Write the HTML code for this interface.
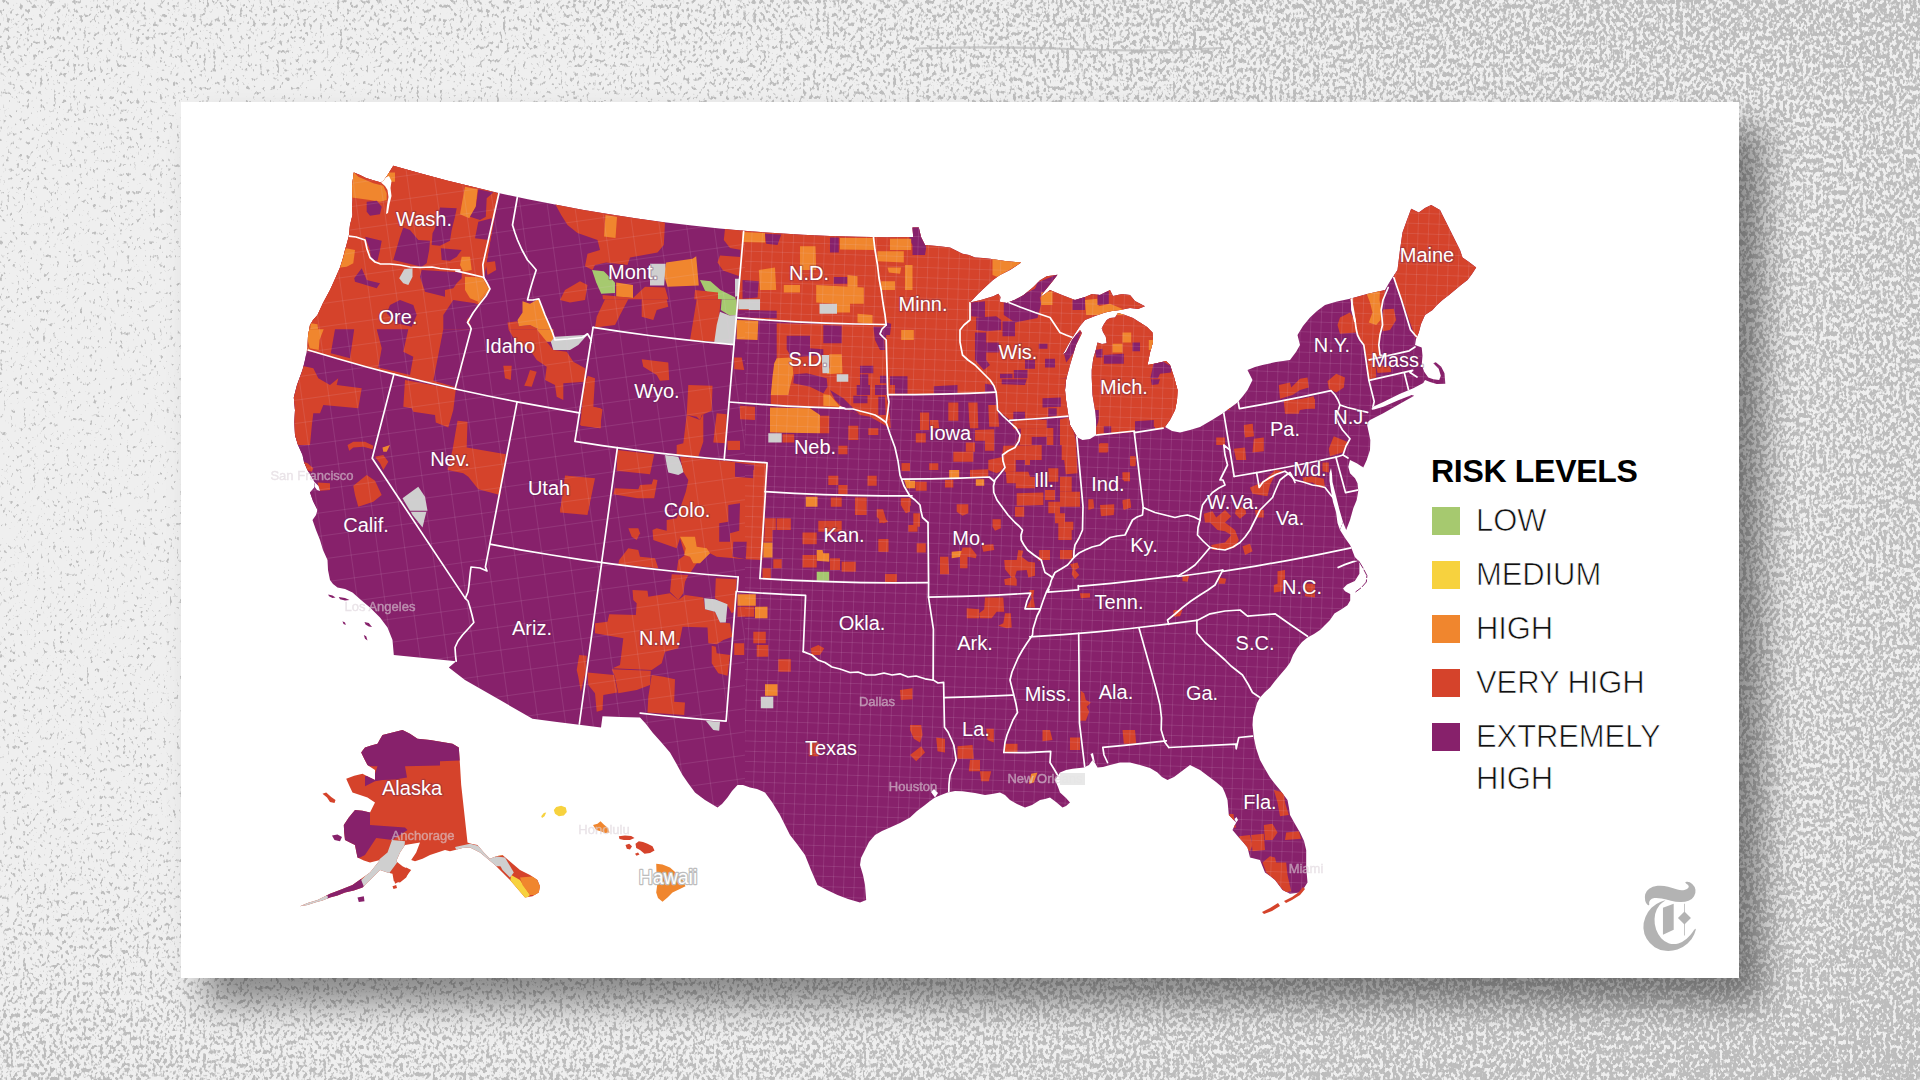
<!DOCTYPE html>
<html><head><meta charset="utf-8"><title>Risk levels map</title>
<style>
html,body{margin:0;padding:0;}
body{width:1920px;height:1080px;overflow:hidden;position:relative;background:#dcdcdc;font-family:"Liberation Sans",sans-serif;}
#bg{position:absolute;left:0;top:0;width:1920px;height:1080px;}
#card{position:absolute;left:181px;top:102px;width:1558px;height:876px;background:#fff;box-shadow:24px 26px 32px rgba(0,0,0,0.42);}
#map{position:absolute;left:0;top:0;width:1920px;height:1080px;}
.lg{position:absolute;left:1432px;width:28px;height:28px;}
.lt{position:absolute;left:1476px;font-size:31px;line-height:42px;color:#111;letter-spacing:-0.1px;white-space:nowrap;-webkit-text-stroke:0.7px #fff;}
#ttl{position:absolute;left:1431px;top:452px;font-size:32px;font-weight:bold;color:#000;white-space:nowrap;letter-spacing:-0.3px;line-height:38px;}
</style></head><body>
<svg id="bg" viewBox="0 0 1920 1080">
<defs>
<radialGradient id="gg" gradientUnits="userSpaceOnUse" cx="230" cy="430" r="1780"><stop offset="0" stop-color="#b9b9b9"/><stop offset="0.22" stop-color="#b0b0b0"/><stop offset="0.45" stop-color="#999999"/><stop offset="0.7" stop-color="#868686"/><stop offset="1" stop-color="#787878"/></radialGradient>
<linearGradient id="gb" x1="0" y1="0" x2="0" y2="1"><stop offset="0" stop-color="#000" stop-opacity="0.06"/><stop offset="0.1" stop-color="#000" stop-opacity="0"/><stop offset="0.8" stop-color="#000" stop-opacity="0"/><stop offset="1" stop-color="#000" stop-opacity="0.14"/></linearGradient>
<filter id="tex" x="0" y="0" width="100%" height="100%" color-interpolation-filters="sRGB">
<feTurbulence type="fractalNoise" baseFrequency="0.3 0.22" numOctaves="2" seed="11" result="n"/>
<feColorMatrix in="n" type="matrix" values="1 0 0 0 0  1 0 0 0 0  1 0 0 0 0  0 0 0 0 1" result="ng"/>
<feComposite in="ng" in2="SourceGraphic" operator="arithmetic" k1="0" k2="1" k3="1" k4="-0.5" result="s"/>
<feColorMatrix in="s" type="matrix" values="7 0 0 0 -3  7 0 0 0 -3  7 0 0 0 -3  0 0 0 0 1" result="c"/>
<feComponentTransfer in="c"><feFuncR type="table" tableValues="0.745 0.94"/><feFuncG type="table" tableValues="0.745 0.94"/><feFuncB type="table" tableValues="0.745 0.94"/></feComponentTransfer>
</filter>
</defs>
<g filter="url(#tex)"><rect width="1920" height="1080" fill="url(#gg)"/><rect width="1920" height="1080" fill="url(#gb)"/></g>
<path d="M915 48.500Q1000 46 1070 49T1222 48" stroke="#b9b9b9" stroke-width="2.2" fill="none" opacity="0.7"/>
</svg>
<div id="card"></div>

<svg id="map" viewBox="0 0 1920 1080">
<defs>
<clipPath id="cm"><path d="M353.8 172.5L360.0 175.0L366.0 178.0L374.0 180.5L381.0 182.5L384.0 180.0L387.0 176.0L390.0 171.0L393.3 165.8L420.0 173.3L446.8 180.4L473.7 187.1L500.7 193.4L527.8 199.2L555.0 204.6L582.2 209.7L609.6 214.3L637.0 218.5L664.4 222.2L691.9 225.6L719.5 228.5L747.1 231.0L774.7 233.1L802.4 234.7L830.1 236.0L857.8 236.8L885.5 237.2L913.2 237.1L912.5 227.5L918.8 227.5L921.0 237.0L925.0 245.0L937.0 246.0L950.0 247.5L957.0 251.0L962.5 253.8L969.0 255.0L975.0 257.5L983.0 258.0L990.0 258.8L1005.0 261.0L1021.2 262.5L1010.0 270.0L1000.0 275.0L993.0 280.0L987.5 285.0L978.0 294.0L970.0 302.5L981.7 299.7L993.3 296.3L998.3 293.7L1000.5 297.0L999.7 301.7L1006.7 303.0L1015.0 299.7L1023.3 295.3L1033.3 287.0L1040.0 280.3L1046.7 276.2L1057.5 274.7L1052.0 282.0L1047.5 287.5L1043.0 293.0L1040.0 297.5L1045.0 294.0L1050.0 290.0L1062.0 295.0L1075.0 300.0L1085.0 297.0L1092.0 294.0L1100.0 295.0L1110.0 290.0L1113.0 296.0L1122.0 294.0L1130.0 295.0L1135.0 301.0L1145.0 306.2L1138.0 309.0L1130.0 308.0L1120.0 310.0L1112.0 311.0L1105.0 312.5L1095.0 316.0L1085.0 320.0L1080.0 326.0L1076.0 332.0L1072.5 337.5L1068.0 345.0L1062.5 355.0L1066.0 352.0L1072.0 340.0L1080.0 330.0L1082.0 333.0L1076.0 345.0L1070.0 365.0L1066.0 380.0L1065.0 390.0L1066.0 400.0L1067.5 410.0L1070.0 425.0L1077.5 437.5L1082.5 440.0L1090.0 439.0L1096.2 435.0L1096.0 420.0L1095.0 410.0L1092.5 395.0L1091.7 377.5L1091.7 370.0L1093.3 358.3L1095.8 350.0L1097.5 342.5L1102.0 344.0L1106.7 343.3L1105.8 336.7L1103.0 332.0L1101.7 328.3L1104.0 324.0L1106.7 320.0L1110.0 318.0L1115.0 317.5L1118.0 313.0L1125.0 315.0L1133.0 318.0L1140.0 322.5L1147.0 327.0L1152.5 332.5L1153.0 342.0L1150.0 352.5L1147.5 365.0L1153.0 364.0L1160.0 362.5L1166.0 361.0L1170.0 365.0L1174.0 377.0L1177.5 390.0L1177.0 400.0L1175.0 410.0L1170.0 420.0L1165.0 427.0L1172.0 431.0L1180.0 432.5L1190.0 430.0L1200.0 427.0L1212.0 420.0L1222.5 413.5L1230.0 408.0L1237.5 402.5L1243.0 396.0L1247.5 390.0L1252.5 380.0L1247.5 370.0L1255.0 367.0L1262.5 365.0L1276.0 362.0L1290.0 360.0L1296.0 352.0L1300.0 345.0L1297.5 335.0L1303.0 326.0L1310.0 317.5L1317.0 311.0L1325.0 305.0L1337.0 301.5L1350.0 298.8L1367.0 294.0L1385.0 290.0L1389.0 283.0L1392.5 277.5L1397.5 270.0L1400.0 250.0L1402.5 232.5L1407.0 220.0L1411.2 208.8L1418.8 212.5L1425.0 208.0L1431.2 205.0L1440.0 210.0L1446.0 222.0L1453.0 236.0L1460.0 250.0L1462.5 257.5L1469.0 262.0L1476.2 267.5L1472.0 274.0L1467.5 280.0L1461.0 285.0L1455.0 290.0L1449.0 295.0L1442.5 300.0L1437.0 305.0L1432.5 310.0L1425.0 315.0L1421.0 324.0L1418.8 332.5L1416.0 339.0L1415.0 345.0L1421.7 347.5L1422.5 355.8L1421.7 365.0L1424.2 371.7L1428.3 377.5L1433.3 379.2L1439.2 380.0L1440.8 375.8L1438.7 368.7L1433.3 363.3L1435.8 362.2L1441.2 366.7L1444.5 373.3L1445.3 383.7L1436.7 384.0L1430.0 382.0L1425.0 380.0L1423.3 383.0L1413.3 388.3L1400.0 393.7L1383.3 402.0L1372.5 407.0L1373.3 409.7L1383.3 406.7L1398.3 400.3L1411.7 395.0L1414.2 395.8L1400.0 403.7L1383.3 413.3L1370.0 420.0L1366.7 423.3L1367.5 426.7L1370.3 440.0L1370.0 450.0L1366.7 460.0L1363.3 467.5L1356.7 463.3L1350.0 460.0L1348.3 466.7L1350.0 473.3L1355.0 478.3L1357.5 483.3L1358.3 490.8L1356.7 500.0L1353.3 508.3L1350.0 520.0L1346.2 530.0L1343.0 522.0L1340.0 530.0L1345.0 538.0L1350.0 545.0L1351.1 547.3L1354.8 557.0L1358.5 560.7L1359.4 564.4L1359.4 573.7L1354.8 581.1L1347.0 584.5L1343.0 588.5L1345.0 591.3L1350.2 594.1L1350.2 600.6L1347.4 605.2L1341.9 608.9L1334.4 613.5L1330.0 620.0L1325.0 625.0L1320.0 630.0L1314.0 634.0L1307.5 637.5L1302.0 642.0L1297.5 647.5L1293.0 655.0L1290.0 662.5L1286.0 668.0L1280.0 675.0L1275.0 681.0L1270.0 687.5L1265.0 692.0L1260.0 697.5L1257.0 703.0L1255.0 710.0L1253.0 717.0L1252.5 725.0L1253.8 737.5L1256.0 748.0L1260.0 760.0L1265.0 769.0L1270.0 777.5L1275.0 784.0L1280.0 790.0L1287.5 800.0L1289.0 808.0L1290.0 815.0L1295.0 824.0L1300.0 832.5L1304.0 841.0L1306.2 850.0L1306.2 867.5L1307.5 882.5L1304.0 888.0L1300.0 892.5L1290.0 893.8L1282.5 890.0L1275.0 880.0L1270.0 876.0L1265.0 872.5L1260.0 860.0L1250.0 857.5L1247.5 847.5L1243.0 842.0L1238.8 837.5L1232.5 830.0L1236.2 822.5L1228.8 815.0L1227.5 800.0L1225.0 793.0L1222.5 787.5L1216.0 782.0L1210.0 777.5L1200.0 770.0L1190.0 765.0L1180.0 772.5L1174.0 777.0L1167.5 780.0L1162.0 777.0L1157.5 772.5L1150.0 768.0L1140.0 765.0L1130.0 762.5L1120.0 762.5L1110.0 765.0L1103.0 767.0L1097.5 767.5L1095.0 763.0L1092.5 760.0L1089.0 765.0L1083.8 767.5L1072.5 768.8L1066.0 770.0L1060.0 772.5L1055.0 780.0L1058.0 787.0L1060.0 792.5L1066.0 798.0L1070.0 802.5L1066.0 806.0L1062.5 807.5L1056.0 802.0L1050.0 797.5L1045.0 799.0L1040.0 800.0L1032.0 805.0L1025.0 807.5L1017.0 804.0L1010.0 800.0L1005.0 795.0L1000.0 792.5L992.0 794.0L985.0 795.0L975.0 793.0L962.5 791.2L955.0 791.0L947.5 792.5L941.0 795.0L935.0 797.5L930.0 801.0L925.0 805.0L917.0 811.0L910.0 817.5L900.0 823.0L890.0 827.5L882.0 831.0L875.0 835.0L869.0 842.0L865.0 850.0L861.0 858.0L860.0 865.0L863.0 875.0L865.0 885.0L866.2 900.0L860.0 902.5L848.0 899.0L837.5 895.0L827.0 890.0L817.5 885.0L811.0 870.0L805.0 855.0L797.0 844.0L790.0 835.0L785.0 825.0L780.0 815.0L772.0 802.0L765.0 792.5L757.0 789.0L750.0 787.5L743.0 785.0L737.5 785.0L732.0 791.0L727.5 797.5L722.0 804.0L717.5 807.5L705.0 800.0L695.0 792.5L688.0 783.0L682.5 775.0L676.0 763.0L670.0 752.5L661.0 742.0L652.5 732.5L646.0 724.0L640.0 717.5L621.0 717.0L602.5 716.2L601.0 727.5L581.2 725.0L557.0 722.0L532.5 718.8L500.0 700.0L465.0 680.0L448.8 667.5L456.2 661.2L393.8 655.0L392.5 640.0L387.5 627.5L380.0 617.5L370.0 607.5L361.0 600.0L352.5 592.5L345.0 589.0L337.5 587.5L333.0 584.0L330.0 580.0L328.0 570.0L327.5 560.0L323.0 550.0L320.0 540.0L316.0 530.0L312.5 520.0L316.0 515.0L317.5 510.0L313.0 501.0L310.0 492.5L314.0 488.0L315.0 482.5L311.0 476.0L307.5 470.0L304.0 462.0L302.5 455.0L298.0 445.0L295.0 435.0L294.5 422.0L295.0 410.0L293.8 397.5L297.0 385.0L302.5 370.0L305.0 360.0L307.5 347.5L308.0 336.0L310.0 325.0L313.0 320.0L317.5 315.0L323.0 303.0L330.0 290.0L335.0 279.0L340.0 267.5L343.0 258.0L345.0 250.0L347.0 243.0L348.8 236.2L350.0 225.0L352.5 215.0L352.0 207.0L352.5 200.0L352.0 186.0Z"/></clipPath>
<clipPath id="ca"><path d="M402.5 730.0L410.0 733.8L417.5 738.8L430.0 740.0L445.0 742.5L452.5 743.8L458.8 747.5L460.0 765.0L461.2 785.0L464.5 815.0L467.5 842.5L471.2 843.8L477.5 845.0L483.8 852.5L490.0 858.8L496.2 856.2L502.5 855.0L511.2 862.5L520.0 870.0L530.0 875.0L537.5 880.0L540.0 886.2L538.8 892.5L532.5 896.2L525.0 897.5L517.5 888.8L510.0 880.0L502.5 872.5L495.0 865.0L487.5 858.8L480.0 852.5L475.0 850.0L470.0 847.5L462.5 848.0L455.0 850.0L450.0 851.2L445.0 850.0L437.5 852.5L430.0 855.0L422.5 858.8L415.0 861.2L411.2 860.0L416.2 852.5L420.0 842.5L412.5 843.8L405.0 845.0L400.0 852.5L396.2 861.2L402.5 866.2L410.0 870.0L406.2 877.5L400.0 882.5L393.8 881.2L392.5 873.8L387.5 872.5L380.0 870.0L375.0 875.0L370.0 880.0L366.2 883.8L362.5 887.5L353.8 890.5L345.0 892.5L337.5 895.5L330.0 897.5L322.5 900.5L315.0 902.5L307.5 905.0L300.0 906.2L307.5 903.0L317.5 900.0L330.0 893.8L341.2 889.5L352.5 885.0L361.2 878.8L370.0 872.5L375.0 866.2L380.0 860.0L375.0 861.2L370.0 862.5L363.8 860.5L357.5 857.5L356.2 851.2L355.0 845.0L350.0 842.5L345.0 840.0L344.2 832.5L343.8 825.0L348.8 817.5L355.0 810.0L362.5 810.8L370.0 812.5L372.5 807.5L375.0 802.5L371.2 800.0L367.5 797.5L360.0 795.0L352.5 792.5L349.2 785.5L346.2 778.8L354.2 775.8L362.5 773.8L368.8 777.0L375.0 780.0L375.0 775.0L375.0 770.0L371.2 767.5L367.5 765.0L364.2 758.8L361.2 752.5L363.0 750.0L365.0 747.5L371.2 745.5L377.5 743.8L380.0 739.2L382.5 735.0L392.5 732.5Z"/></clipPath>
<pattern id="grid" width="10.4" height="10.2" patternUnits="userSpaceOnUse" patternTransform="rotate(2)"><path d="M0 0H10.4M0 0V10.2" stroke="#e9c7e0" stroke-width="0.6" fill="none" opacity="0.42"/></pattern>
<pattern id="gridw" width="27" height="23" patternUnits="userSpaceOnUse" patternTransform="rotate(-8)"><path d="M0 0H27M0 0V23" stroke="#e9c7e0" stroke-width="0.6" fill="none" opacity="0.42"/></pattern>
</defs>
<path d="M353.8 172.5L360.0 175.0L366.0 178.0L374.0 180.5L381.0 182.5L384.0 180.0L387.0 176.0L390.0 171.0L393.3 165.8L420.0 173.3L446.8 180.4L473.7 187.1L500.7 193.4L527.8 199.2L555.0 204.6L582.2 209.7L609.6 214.3L637.0 218.5L664.4 222.2L691.9 225.6L719.5 228.5L747.1 231.0L774.7 233.1L802.4 234.7L830.1 236.0L857.8 236.8L885.5 237.2L913.2 237.1L912.5 227.5L918.8 227.5L921.0 237.0L925.0 245.0L937.0 246.0L950.0 247.5L957.0 251.0L962.5 253.8L969.0 255.0L975.0 257.5L983.0 258.0L990.0 258.8L1005.0 261.0L1021.2 262.5L1010.0 270.0L1000.0 275.0L993.0 280.0L987.5 285.0L978.0 294.0L970.0 302.5L981.7 299.7L993.3 296.3L998.3 293.7L1000.5 297.0L999.7 301.7L1006.7 303.0L1015.0 299.7L1023.3 295.3L1033.3 287.0L1040.0 280.3L1046.7 276.2L1057.5 274.7L1052.0 282.0L1047.5 287.5L1043.0 293.0L1040.0 297.5L1045.0 294.0L1050.0 290.0L1062.0 295.0L1075.0 300.0L1085.0 297.0L1092.0 294.0L1100.0 295.0L1110.0 290.0L1113.0 296.0L1122.0 294.0L1130.0 295.0L1135.0 301.0L1145.0 306.2L1138.0 309.0L1130.0 308.0L1120.0 310.0L1112.0 311.0L1105.0 312.5L1095.0 316.0L1085.0 320.0L1080.0 326.0L1076.0 332.0L1072.5 337.5L1068.0 345.0L1062.5 355.0L1066.0 352.0L1072.0 340.0L1080.0 330.0L1082.0 333.0L1076.0 345.0L1070.0 365.0L1066.0 380.0L1065.0 390.0L1066.0 400.0L1067.5 410.0L1070.0 425.0L1077.5 437.5L1082.5 440.0L1090.0 439.0L1096.2 435.0L1096.0 420.0L1095.0 410.0L1092.5 395.0L1091.7 377.5L1091.7 370.0L1093.3 358.3L1095.8 350.0L1097.5 342.5L1102.0 344.0L1106.7 343.3L1105.8 336.7L1103.0 332.0L1101.7 328.3L1104.0 324.0L1106.7 320.0L1110.0 318.0L1115.0 317.5L1118.0 313.0L1125.0 315.0L1133.0 318.0L1140.0 322.5L1147.0 327.0L1152.5 332.5L1153.0 342.0L1150.0 352.5L1147.5 365.0L1153.0 364.0L1160.0 362.5L1166.0 361.0L1170.0 365.0L1174.0 377.0L1177.5 390.0L1177.0 400.0L1175.0 410.0L1170.0 420.0L1165.0 427.0L1172.0 431.0L1180.0 432.5L1190.0 430.0L1200.0 427.0L1212.0 420.0L1222.5 413.5L1230.0 408.0L1237.5 402.5L1243.0 396.0L1247.5 390.0L1252.5 380.0L1247.5 370.0L1255.0 367.0L1262.5 365.0L1276.0 362.0L1290.0 360.0L1296.0 352.0L1300.0 345.0L1297.5 335.0L1303.0 326.0L1310.0 317.5L1317.0 311.0L1325.0 305.0L1337.0 301.5L1350.0 298.8L1367.0 294.0L1385.0 290.0L1389.0 283.0L1392.5 277.5L1397.5 270.0L1400.0 250.0L1402.5 232.5L1407.0 220.0L1411.2 208.8L1418.8 212.5L1425.0 208.0L1431.2 205.0L1440.0 210.0L1446.0 222.0L1453.0 236.0L1460.0 250.0L1462.5 257.5L1469.0 262.0L1476.2 267.5L1472.0 274.0L1467.5 280.0L1461.0 285.0L1455.0 290.0L1449.0 295.0L1442.5 300.0L1437.0 305.0L1432.5 310.0L1425.0 315.0L1421.0 324.0L1418.8 332.5L1416.0 339.0L1415.0 345.0L1421.7 347.5L1422.5 355.8L1421.7 365.0L1424.2 371.7L1428.3 377.5L1433.3 379.2L1439.2 380.0L1440.8 375.8L1438.7 368.7L1433.3 363.3L1435.8 362.2L1441.2 366.7L1444.5 373.3L1445.3 383.7L1436.7 384.0L1430.0 382.0L1425.0 380.0L1423.3 383.0L1413.3 388.3L1400.0 393.7L1383.3 402.0L1372.5 407.0L1373.3 409.7L1383.3 406.7L1398.3 400.3L1411.7 395.0L1414.2 395.8L1400.0 403.7L1383.3 413.3L1370.0 420.0L1366.7 423.3L1367.5 426.7L1370.3 440.0L1370.0 450.0L1366.7 460.0L1363.3 467.5L1356.7 463.3L1350.0 460.0L1348.3 466.7L1350.0 473.3L1355.0 478.3L1357.5 483.3L1358.3 490.8L1356.7 500.0L1353.3 508.3L1350.0 520.0L1346.2 530.0L1343.0 522.0L1340.0 530.0L1345.0 538.0L1350.0 545.0L1351.1 547.3L1354.8 557.0L1358.5 560.7L1359.4 564.4L1359.4 573.7L1354.8 581.1L1347.0 584.5L1343.0 588.5L1345.0 591.3L1350.2 594.1L1350.2 600.6L1347.4 605.2L1341.9 608.9L1334.4 613.5L1330.0 620.0L1325.0 625.0L1320.0 630.0L1314.0 634.0L1307.5 637.5L1302.0 642.0L1297.5 647.5L1293.0 655.0L1290.0 662.5L1286.0 668.0L1280.0 675.0L1275.0 681.0L1270.0 687.5L1265.0 692.0L1260.0 697.5L1257.0 703.0L1255.0 710.0L1253.0 717.0L1252.5 725.0L1253.8 737.5L1256.0 748.0L1260.0 760.0L1265.0 769.0L1270.0 777.5L1275.0 784.0L1280.0 790.0L1287.5 800.0L1289.0 808.0L1290.0 815.0L1295.0 824.0L1300.0 832.5L1304.0 841.0L1306.2 850.0L1306.2 867.5L1307.5 882.5L1304.0 888.0L1300.0 892.5L1290.0 893.8L1282.5 890.0L1275.0 880.0L1270.0 876.0L1265.0 872.5L1260.0 860.0L1250.0 857.5L1247.5 847.5L1243.0 842.0L1238.8 837.5L1232.5 830.0L1236.2 822.5L1228.8 815.0L1227.5 800.0L1225.0 793.0L1222.5 787.5L1216.0 782.0L1210.0 777.5L1200.0 770.0L1190.0 765.0L1180.0 772.5L1174.0 777.0L1167.5 780.0L1162.0 777.0L1157.5 772.5L1150.0 768.0L1140.0 765.0L1130.0 762.5L1120.0 762.5L1110.0 765.0L1103.0 767.0L1097.5 767.5L1095.0 763.0L1092.5 760.0L1089.0 765.0L1083.8 767.5L1072.5 768.8L1066.0 770.0L1060.0 772.5L1055.0 780.0L1058.0 787.0L1060.0 792.5L1066.0 798.0L1070.0 802.5L1066.0 806.0L1062.5 807.5L1056.0 802.0L1050.0 797.5L1045.0 799.0L1040.0 800.0L1032.0 805.0L1025.0 807.5L1017.0 804.0L1010.0 800.0L1005.0 795.0L1000.0 792.5L992.0 794.0L985.0 795.0L975.0 793.0L962.5 791.2L955.0 791.0L947.5 792.5L941.0 795.0L935.0 797.5L930.0 801.0L925.0 805.0L917.0 811.0L910.0 817.5L900.0 823.0L890.0 827.5L882.0 831.0L875.0 835.0L869.0 842.0L865.0 850.0L861.0 858.0L860.0 865.0L863.0 875.0L865.0 885.0L866.2 900.0L860.0 902.5L848.0 899.0L837.5 895.0L827.0 890.0L817.5 885.0L811.0 870.0L805.0 855.0L797.0 844.0L790.0 835.0L785.0 825.0L780.0 815.0L772.0 802.0L765.0 792.5L757.0 789.0L750.0 787.5L743.0 785.0L737.5 785.0L732.0 791.0L727.5 797.5L722.0 804.0L717.5 807.5L705.0 800.0L695.0 792.5L688.0 783.0L682.5 775.0L676.0 763.0L670.0 752.5L661.0 742.0L652.5 732.5L646.0 724.0L640.0 717.5L621.0 717.0L602.5 716.2L601.0 727.5L581.2 725.0L557.0 722.0L532.5 718.8L500.0 700.0L465.0 680.0L448.8 667.5L456.2 661.2L393.8 655.0L392.5 640.0L387.5 627.5L380.0 617.5L370.0 607.5L361.0 600.0L352.5 592.5L345.0 589.0L337.5 587.5L333.0 584.0L330.0 580.0L328.0 570.0L327.5 560.0L323.0 550.0L320.0 540.0L316.0 530.0L312.5 520.0L316.0 515.0L317.5 510.0L313.0 501.0L310.0 492.5L314.0 488.0L315.0 482.5L311.0 476.0L307.5 470.0L304.0 462.0L302.5 455.0L298.0 445.0L295.0 435.0L294.5 422.0L295.0 410.0L293.8 397.5L297.0 385.0L302.5 370.0L305.0 360.0L307.5 347.5L308.0 336.0L310.0 325.0L313.0 320.0L317.5 315.0L323.0 303.0L330.0 290.0L335.0 279.0L340.0 267.5L343.0 258.0L345.0 250.0L347.0 243.0L348.8 236.2L350.0 225.0L352.5 215.0L352.0 207.0L352.5 200.0L352.0 186.0Z" fill="#87216b"/>
<g clip-path="url(#cm)">
<path d="M295.0 155.0L395.0 162.5L498.8 193.2L495.0 215.0L483.8 277.5L490.0 288.8L478.8 305.0L467.5 322.5L471.2 328.8L456.2 388.8L308.8 351.2L285.0 350.0Z" fill="#d5432b"/>
<path d="M351.2 170.0L360.0 177.5L380.0 182.5L387.5 188.8L388.8 198.8L381.2 202.0L370.0 200.0L351.2 198.8Z" fill="#f0862e"/>
<path d="M382.5 172.5L396.2 172.0L396.2 181.2L383.0 181.2Z" fill="#f0862e"/>
<path d="M367.0 202.5L378.0 201.2L381.2 207.0L378.8 214.5L368.0 214.5L366.2 208.8Z" fill="#87216b"/>
<path d="M402.5 228.0L408.8 230.0L418.0 239.5L430.0 240.5L430.5 250.0L427.5 262.0L420.0 262.5L397.5 257.5L393.0 254.5L396.2 245.0L401.2 238.8Z" fill="#87216b"/>
<path d="M432.0 228.0L442.5 226.2L445.0 215.0L448.8 210.0L457.0 208.8L456.2 226.2L452.5 238.0L442.5 243.0L432.5 243.0Z" fill="#87216b"/>
<path d="M465.5 187.0L477.5 189.0L476.5 212.5L469.0 218.0L459.5 213.0L462.5 200.0Z" fill="#f0862e"/>
<path d="M478.0 189.2L487.5 191.2L486.0 202.5L484.5 218.0L478.0 220.5L470.8 215.0L473.0 202.5Z" fill="#87216b"/>
<path d="M480.5 220.0L492.0 219.5L490.0 238.0L478.0 238.0L475.5 230.5Z" fill="#87216b"/>
<path d="M442.5 250.0L455.5 247.5L463.0 255.5L450.5 260.5L442.5 260.5Z" fill="#87216b"/>
<path d="M367.0 238.0L381.2 240.5L381.8 250.0L370.5 258.0L366.2 250.0Z" fill="#87216b"/>
<path d="M461.2 257.5L470.0 256.2L473.0 270.0L464.0 273.0Z" fill="#f0862e"/>
<path d="M345.0 248.8L355.5 248.8L356.8 260.0L350.5 265.5L341.2 267.5Z" fill="#f0862e"/>
<path d="M357.5 270.0L365.5 267.5L370.5 280.0L378.0 288.0L365.0 285.5L356.2 280.5Z" fill="#87216b"/>
<path d="M400.0 268.8L411.2 267.5L412.5 275.0L408.8 285.0L402.5 282.5L398.8 276.2Z" fill="#cfcfcf"/>
<path d="M420.0 272.5L435.0 270.0L460.5 272.5L463.0 280.0L455.5 290.0L445.0 290.5L442.5 295.5L425.0 290.5L420.0 283.0Z" fill="#87216b"/>
<path d="M465.0 278.8L483.0 277.5L490.0 288.8L478.8 303.0L470.0 300.5L465.0 290.5Z" fill="#f0862e"/>
<path d="M390.0 302.5L400.5 300.0L410.5 305.0L413.0 315.0L405.5 325.5L393.0 320.5L387.5 310.5Z" fill="#87216b"/>
<path d="M445.0 305.5L455.5 300.0L470.5 302.5L478.8 305.0L467.5 322.5L471.2 328.8L456.2 388.8L435.0 383.0L442.5 340.5L450.5 320.5L442.5 315.5Z" fill="#87216b"/>
<path d="M377.5 325.5L403.0 327.5L410.5 340.5L403.0 353.0L415.5 360.5L410.0 375.5L380.0 368.0L383.0 348.0L375.0 340.5Z" fill="#87216b"/>
<path d="M335.5 337.5L355.5 335.0L350.5 358.0L332.5 353.0Z" fill="#87216b"/>
<path d="M307.5 323.8L318.0 322.5L324.2 332.5L319.2 340.0L320.5 350.5L307.5 349.2Z" fill="#f0862e"/>
<path d="M485.5 262.5L495.0 261.2L496.2 270.0L487.5 275.0Z" fill="#d5432b"/>
<path d="M507.5 322.5L517.5 321.2L518.8 326.2L530.0 325.0L540.0 330.0L550.0 342.5L552.5 350.0L565.0 352.5L570.0 362.5L585.0 372.5L585.0 380.0L565.0 380.0L560.0 390.0L545.0 380.0L542.5 366.2L532.5 360.0L530.0 350.0L517.5 340.0L510.0 337.5Z" fill="#d5432b"/>
<path d="M522.5 301.2L530.0 303.8L538.8 298.8L545.0 315.0L552.5 332.5L555.0 340.0L550.0 342.5L540.0 330.0L530.0 325.0L518.8 326.2L517.5 320.0L522.5 312.5Z" fill="#f0862e"/>
<path d="M555.0 338.8L582.5 337.5L577.5 345.0L570.0 351.2L551.2 350.0Z" fill="#cfcfcf"/>
<path d="M502.5 365.0L511.2 366.2L510.0 377.5L503.8 375.0Z" fill="#d5432b"/>
<path d="M530.0 370.0L537.5 371.2L532.5 386.2L527.5 383.8Z" fill="#d5432b"/>
<path d="M555.0 382.5L563.8 381.2L565.0 400.0L557.5 397.5Z" fill="#d5432b"/>
<path d="M555.0 203.8L606.2 212.5L665.0 222.5L663.8 245.0L657.5 252.5L630.0 257.5L627.5 265.0L606.2 262.5L595.0 265.0L592.5 270.0L585.0 266.2L587.5 253.8L600.0 250.0L597.5 240.0L577.5 233.0L567.5 225.0L561.2 215.0Z" fill="#d5432b"/>
<path d="M605.5 215.0L617.0 217.0L615.5 238.0L604.0 236.5Z" fill="#f0862e"/>
<path d="M725.0 228.8L743.0 230.5L741.5 250.0L730.0 248.0L723.8 240.0Z" fill="#d5432b"/>
<path d="M720.0 255.5L740.5 257.0L739.5 276.2L723.0 270.5L717.5 262.5Z" fill="#d5432b"/>
<path d="M592.0 270.0L603.8 271.2L615.0 282.5L615.0 293.0L601.2 293.8L596.2 282.5Z" fill="#a6c96f"/>
<path d="M700.0 280.0L710.5 281.2L720.5 290.0L735.5 297.5L735.5 315.5L722.5 315.5L720.0 300.5L705.0 290.5Z" fill="#a6c96f"/>
<path d="M666.2 262.5L692.5 258.8L696.2 256.2L698.8 285.5L667.5 286.8L663.8 275.0Z" fill="#f0862e"/>
<path d="M616.2 282.5L633.0 285.0L633.0 298.0L616.2 296.8Z" fill="#f0862e"/>
<path d="M650.0 263.8L665.5 263.8L664.2 285.5L650.0 285.5Z" fill="#cfcfcf"/>
<path d="M720.0 312.5L735.5 312.5L734.2 343.0L714.5 341.8L717.5 325.5Z" fill="#cfcfcf"/>
<path d="M735.0 278.8L739.5 278.8L739.5 295.5L735.0 296.8Z" fill="#cfcfcf"/>
<path d="M565.0 290.0L580.0 281.2L587.5 285.0L585.0 300.0L570.0 302.5L560.0 300.0Z" fill="#d5432b"/>
<path d="M602.5 295.0L616.2 296.2L633.0 298.0L645.0 286.8L665.0 287.5L670.0 305.0L655.0 312.5L650.0 320.5L637.5 315.5L630.0 303.0L620.0 315.5L615.0 325.5L605.0 320.5Z" fill="#d5432b"/>
<path d="M695.0 290.0L718.0 292.5L718.0 325.5L715.0 340.5L692.5 339.2L692.5 320.5Z" fill="#d5432b"/>
<path d="M642.5 360.0L667.5 361.2L668.0 380.0L655.0 375.0Z" fill="#d5432b"/>
<path d="M686.2 386.2L710.0 386.2L710.0 410.0L686.2 410.0Z" fill="#d5432b"/>
<path d="M583.8 377.5L592.5 378.8L592.5 410.0L582.5 410.0Z" fill="#d5432b"/>
<path d="M741.2 222.5L1230.0 222.5L1230.0 410.0L1000.0 410.0L996.2 393.0L887.0 395.5L887.0 411.2L735.0 411.2Z" fill="#d5432b"/>
<path d="M742.5 232.0L765.0 233.0L765.0 242.5L742.5 242.0Z" fill="#f0862e"/>
<path d="M765.0 233.8L781.2 234.5L777.5 245.0L766.2 243.8Z" fill="#87216b"/>
<path d="M830.0 237.5L838.8 237.5L838.8 252.5L830.0 252.5Z" fill="#87216b"/>
<path d="M840.0 238.0L873.8 238.0L874.2 250.0L840.0 249.5Z" fill="#f0862e"/>
<path d="M800.0 246.2L815.5 246.2L816.2 270.0L800.0 270.0Z" fill="#f0862e"/>
<path d="M758.8 270.0L775.0 267.5L776.2 290.0L760.0 290.0Z" fill="#f0862e"/>
<path d="M742.5 280.0L758.8 281.2L757.5 297.5L742.5 298.8Z" fill="#87216b"/>
<path d="M783.8 285.0L800.0 285.0L800.0 292.5L783.8 292.5Z" fill="#f0862e"/>
<path d="M833.8 277.0L847.5 277.0L847.5 283.8L833.8 283.8Z" fill="#87216b"/>
<path d="M847.5 275.0L857.5 276.2L857.5 287.5L847.5 287.5Z" fill="#f0862e"/>
<path d="M816.2 285.0L863.8 287.5L863.8 303.8L850.0 303.8L850.0 312.5L836.2 312.5L836.2 303.8L816.2 302.5Z" fill="#f0862e"/>
<path d="M748.8 300.0L760.0 300.0L760.0 310.0L748.8 310.0Z" fill="#cfcfcf"/>
<path d="M819.5 303.8L837.0 303.8L837.0 313.8L819.5 313.8Z" fill="#cfcfcf"/>
<path d="M857.5 313.8L872.5 315.0L872.5 323.8L857.5 322.5Z" fill="#f0862e"/>
<path d="M757.0 322.0L776.2 323.0L775.0 360.0L765.0 380.0L770.0 411.2L735.0 411.2L735.0 360.0L750.0 360.0L757.0 340.0Z" fill="#87216b"/>
<path d="M736.2 321.2L757.0 322.5L757.0 340.0L736.2 340.0Z" fill="#f0862e"/>
<path d="M787.5 337.5L807.5 336.2L810.0 347.5L825.0 347.5L825.0 357.5L812.5 360.0L802.5 352.5L787.5 347.5Z" fill="#87216b"/>
<path d="M822.5 326.2L841.2 326.2L841.2 343.8L822.5 343.8Z" fill="#87216b"/>
<path d="M872.5 327.5L886.2 326.2L886.2 337.5L880.0 347.5L886.2 352.5L872.5 352.5Z" fill="#87216b"/>
<path d="M775.0 362.5L791.2 357.5L792.5 392.5L788.8 400.0L771.2 398.8L773.8 377.5Z" fill="#f0862e"/>
<path d="M827.5 355.0L841.2 355.0L841.2 373.8L827.5 373.8Z" fill="#f0862e"/>
<path d="M822.5 360.0L829.5 360.0L829.5 373.8L822.5 373.8Z" fill="#cfcfcf"/>
<path d="M836.2 375.0L848.8 375.0L848.8 382.0L836.2 382.0Z" fill="#cfcfcf"/>
<path d="M793.8 375.0L822.5 373.8L827.5 387.5L825.0 395.0L815.0 390.0L795.0 385.0Z" fill="#87216b"/>
<path d="M858.8 366.2L872.5 366.2L872.5 375.0L865.0 385.0L858.8 385.0Z" fill="#87216b"/>
<path d="M878.8 376.2L887.0 376.2L887.0 395.5L875.0 395.0L875.0 386.2L878.8 386.2Z" fill="#87216b"/>
<path d="M855.0 386.2L867.5 386.2L867.5 402.5L855.0 402.5Z" fill="#87216b"/>
<path d="M822.5 395.0L835.0 395.0L842.5 405.0L825.0 407.5Z" fill="#f0862e"/>
<path d="M910.0 225.0L920.0 225.0L926.2 247.5L925.0 255.0L912.5 255.0L912.5 245.0L909.5 240.0Z" fill="#87216b"/>
<path d="M890.0 238.8L911.2 238.8L911.2 250.0L890.0 250.0Z" fill="#f0862e"/>
<path d="M877.5 251.2L903.8 251.2L903.8 262.5L877.5 261.2Z" fill="#f0862e"/>
<path d="M887.5 267.5L901.2 267.5L900.0 273.8L888.8 272.5Z" fill="#f0862e"/>
<path d="M905.0 265.0L912.5 265.0L912.5 290.0L905.0 290.0Z" fill="#f0862e"/>
<path d="M881.2 281.2L895.0 281.2L895.0 290.0L881.2 290.0Z" fill="#f0862e"/>
<path d="M992.5 258.0L1022.5 262.0L997.5 277.0L992.5 275.0Z" fill="#f0862e"/>
<path d="M901.2 330.0L913.8 330.0L913.8 340.0L901.2 340.0Z" fill="#f0862e"/>
<path d="M886.2 322.5L891.2 323.8L890.0 335.0L882.5 335.0Z" fill="#87216b"/>
<path d="M890.0 376.2L907.5 376.2L907.5 393.8L895.0 393.8L895.0 385.0L890.0 385.0Z" fill="#87216b"/>
<path d="M933.8 386.2L957.5 385.0L957.5 393.8L933.8 393.8Z" fill="#87216b"/>
<path d="M985.0 383.8L993.8 385.0L996.2 393.0L985.0 393.0Z" fill="#87216b"/>
<path d="M971.2 302.5L985.0 301.2L985.0 317.5L971.2 316.2Z" fill="#87216b"/>
<path d="M976.2 317.5L996.2 316.2L1001.2 320.0L1001.2 330.0L986.2 331.2L976.2 330.0Z" fill="#87216b"/>
<path d="M1003.8 302.5L1018.8 296.2L1037.5 287.5L1041.2 303.8L1037.5 318.0L1015.0 322.5L1003.8 315.0Z" fill="#87216b"/>
<path d="M1002.5 321.2L1015.0 321.2L1015.0 336.2L1002.5 336.2Z" fill="#87216b"/>
<path d="M975.0 332.5L986.2 332.5L986.2 360.0L990.0 365.0L983.8 370.0L975.0 360.0Z" fill="#87216b"/>
<path d="M986.2 342.5L998.8 342.5L998.8 352.5L986.2 352.5Z" fill="#87216b"/>
<path d="M1000.0 373.8L1012.5 373.8L1012.5 385.0L1000.0 385.0Z" fill="#87216b"/>
<path d="M1013.8 370.0L1027.5 370.0L1027.5 386.2L1013.8 386.2Z" fill="#87216b"/>
<path d="M1025.0 360.0L1035.0 360.0L1035.0 368.8L1025.0 368.8Z" fill="#87216b"/>
<path d="M1045.0 358.8L1055.0 358.8L1055.0 367.5L1045.0 367.5Z" fill="#87216b"/>
<path d="M1038.8 343.8L1047.5 343.8L1047.5 348.8L1038.8 348.8Z" fill="#87216b"/>
<path d="M1058.8 378.8L1067.5 377.5L1067.5 390.0L1058.8 390.0Z" fill="#87216b"/>
<path d="M1042.5 398.8L1060.0 398.8L1060.0 408.8L1042.5 408.8Z" fill="#87216b"/>
<path d="M1063.8 352.5L1075.0 335.0L1081.2 331.2L1073.8 352.5L1066.2 362.5Z" fill="#87216b"/>
<path d="M1037.5 282.5L1058.8 273.8L1047.5 287.5L1040.0 297.5L1032.5 295.0Z" fill="#87216b"/>
<path d="M1041.2 292.5L1052.5 291.2L1052.5 305.0L1041.2 305.0Z" fill="#f0862e"/>
<path d="M1072.5 300.0L1085.0 296.2L1085.0 310.0L1072.5 310.0Z" fill="#87216b"/>
<path d="M1085.0 300.0L1097.5 298.8L1098.8 306.2L1110.0 303.8L1125.0 310.0L1125.0 315.0L1100.0 315.0L1086.2 315.0Z" fill="#f0862e"/>
<path d="M1097.5 292.5L1108.8 291.2L1108.8 303.8L1097.5 305.0Z" fill="#87216b"/>
<path d="M1122.5 332.5L1131.2 332.5L1131.2 342.5L1122.5 342.5Z" fill="#f0862e"/>
<path d="M1112.5 343.8L1122.5 343.8L1122.5 352.5L1112.5 352.5Z" fill="#f0862e"/>
<path d="M1132.5 342.5L1141.2 342.5L1141.2 351.2L1132.5 351.2Z" fill="#87216b"/>
<path d="M1142.5 340.0L1153.8 338.8L1153.8 350.0L1142.5 350.0Z" fill="#f0862e"/>
<path d="M1103.8 355.0L1123.8 353.8L1123.8 363.8L1103.8 363.8Z" fill="#87216b"/>
<path d="M1095.0 350.0L1102.5 348.8L1102.5 357.5L1096.2 357.5Z" fill="#87216b"/>
<path d="M1152.5 366.2L1162.5 361.2L1172.5 365.0L1173.0 371.2L1162.5 373.8L1160.0 383.8L1151.2 385.0Z" fill="#87216b"/>
<path d="M1393.8 276.2L1400.0 200.0L1482.5 200.0L1482.5 325.0L1415.5 338.0Z" fill="#d5432b"/>
<path d="M1350.0 298.0L1385.5 289.5L1381.2 310.0L1382.5 325.0L1378.8 345.0L1380.0 355.5L1367.0 360.5L1363.8 345.0L1357.5 335.0L1355.0 320.0Z" fill="#d5432b"/>
<path d="M1366.2 292.5L1380.0 290.5L1379.5 300.0L1381.2 310.0L1380.5 320.0L1376.2 325.0L1368.8 322.5L1372.5 312.5L1370.0 302.5Z" fill="#f0862e"/>
<path d="M1383.0 309.5L1393.8 308.8L1396.2 320.0L1390.0 330.0L1382.5 331.2Z" fill="#d5432b"/>
<path d="M1340.0 317.5L1350.0 312.5L1355.0 320.0L1356.2 332.5L1340.0 333.8L1337.5 325.0Z" fill="#d5432b"/>
<path d="M1278.8 385.0L1290.0 382.5L1291.2 387.5L1300.0 378.8L1307.5 377.5L1308.8 387.5L1300.0 390.0L1292.5 395.0L1280.0 398.8Z" fill="#d5432b"/>
<path d="M1327.5 381.2L1336.2 373.8L1345.0 377.5L1343.8 387.5L1336.2 392.5L1328.8 388.8Z" fill="#d5432b"/>
<path d="M1283.8 402.5L1313.8 396.2L1315.0 407.5L1300.0 410.0L1286.2 413.8Z" fill="#d5432b"/>
<path d="M1243.8 425.0L1252.5 423.8L1253.8 436.2L1245.0 436.2Z" fill="#d5432b"/>
<path d="M1367.5 360.5L1375.5 360.0L1376.2 377.5L1368.0 379.5Z" fill="#d5432b"/>
<path d="M1376.2 365.5L1390.5 366.2L1391.2 372.0L1377.5 373.0Z" fill="#d5432b"/>
<path d="M1140.0 317.5L1181.2 317.5L1181.2 420.0L1165.0 427.5L1140.0 428.8Z" fill="#d5432b"/>
<path d="M1153.8 362.5L1162.5 361.2L1171.2 366.2L1171.2 372.5L1160.0 373.8L1155.0 385.0L1148.8 385.0Z" fill="#87216b"/>
<path d="M1148.8 340.0L1155.0 340.0L1155.0 350.0L1148.8 350.0Z" fill="#f0862e"/>
<path d="M285.0 407.5L320.0 408.8L317.5 425.0L310.0 427.5L307.5 445.0L285.0 442.5Z" fill="#d5432b"/>
<path d="M347.5 443.8L362.5 440.0L375.0 447.5L372.5 450.5L360.0 445.5L350.0 451.8Z" fill="#d5432b"/>
<path d="M382.5 446.2L392.5 443.8L387.5 452.5L382.5 452.5Z" fill="#f0862e"/>
<path d="M375.0 455.0L387.5 456.2L386.2 467.5L380.0 470.0Z" fill="#d5432b"/>
<path d="M302.5 461.2L311.2 467.5L313.8 473.8L307.5 472.5L302.0 466.2Z" fill="#d5432b"/>
<path d="M317.5 483.8L330.0 482.5L328.8 491.2L320.0 490.0Z" fill="#d5432b"/>
<path d="M353.8 482.5L365.0 475.0L375.0 482.5L382.5 492.5L380.0 497.5L370.0 505.0L357.5 507.5L355.0 495.0L352.5 490.0Z" fill="#d5432b"/>
<path d="M402.5 496.2L420.0 486.2L428.0 505.0L422.5 527.5L412.5 515.0Z" fill="#cfcfcf"/>
<path d="M413.8 408.8L451.2 408.8L450.0 426.2L442.5 427.5L440.0 417.5L413.8 412.5Z" fill="#d5432b"/>
<path d="M457.5 420.0L467.5 421.2L468.8 447.5L506.2 455.0L500.0 496.2L477.5 490.0L467.5 480.0L450.0 471.2L451.2 452.5L455.0 435.0Z" fill="#d5432b"/>
<path d="M565.0 475.5L593.8 479.2L587.5 515.0L560.0 512.5Z" fill="#d5432b"/>
<path d="M581.2 408.8L601.2 408.8L600.0 427.5L581.2 425.0Z" fill="#d5432b"/>
<path d="M676.7 438.3L700.0 438.3L698.3 455.8L675.8 453.3Z" fill="#d5432b"/>
<path d="M727.5 439.2L740.0 440.0L739.2 450.0L727.5 449.2Z" fill="#d5432b"/>
<path d="M617.5 450.0L654.2 454.2L650.0 474.2L616.7 470.8Z" fill="#d5432b"/>
<path d="M615.0 488.3L638.3 489.2L640.0 485.0L651.7 484.2L653.3 479.2L657.5 480.0L654.2 498.3L637.5 498.3L613.3 494.2Z" fill="#d5432b"/>
<path d="M665.0 455.0L678.3 456.7L684.2 471.7L678.3 475.0L668.3 472.5L666.7 465.0Z" fill="#cfcfcf"/>
<path d="M680.0 456.7L734.2 461.7L767.5 463.3L762.5 560.0L745.8 559.2L716.7 556.7L710.0 553.3L696.7 563.3L690.0 573.3L676.7 571.7L678.3 560.0L685.0 555.0L680.0 538.3L676.7 548.3L653.3 540.0L652.5 530.0L656.7 528.3L666.7 530.8L666.7 520.0L676.7 518.3L685.8 491.7L688.3 480.0L683.3 471.7Z" fill="#d5432b"/>
<path d="M735.0 462.5L754.2 465.0L753.3 478.3L735.0 476.7Z" fill="#87216b"/>
<path d="M728.3 505.0L740.0 503.3L739.2 530.8L730.0 533.3L730.0 541.7L719.2 541.7L719.2 523.3L728.3 521.7Z" fill="#87216b"/>
<path d="M733.3 541.7L746.7 541.7L745.8 559.2L732.5 556.7Z" fill="#87216b"/>
<path d="M680.0 536.7L695.0 536.7L696.7 546.7L706.7 548.3L710.0 553.3L700.0 563.3L693.3 563.3L690.0 556.7L684.2 555.0L685.8 548.3Z" fill="#f0862e"/>
<path d="M628.3 528.3L638.3 528.3L640.0 533.3L636.7 540.0L631.7 536.7Z" fill="#d5432b"/>
<path d="M619.2 560.0L628.3 548.3L638.3 550.0L640.0 556.7L655.0 558.3L658.3 568.3L618.3 564.2Z" fill="#d5432b"/>
<path d="M768.3 438.3L781.7 438.3L781.7 442.5L768.3 442.5Z" fill="#cfcfcf"/>
<path d="M782.5 438.3L793.3 438.3L793.3 442.5L782.5 442.5Z" fill="#d5432b"/>
<path d="M838.3 445.8L848.3 445.8L848.3 455.0L838.3 455.0Z" fill="#d5432b"/>
<path d="M828.3 475.8L838.3 475.8L838.3 485.0L828.3 485.0Z" fill="#d5432b"/>
<path d="M867.5 475.8L876.7 475.8L876.7 485.8L867.5 485.8Z" fill="#d5432b"/>
<path d="M838.3 485.0L847.5 485.0L847.5 494.2L838.3 494.2Z" fill="#d5432b"/>
<path d="M904.2 480.0L910.0 480.0L910.0 488.3L906.7 488.3Z" fill="#f0862e"/>
<path d="M901.7 463.3L910.0 463.3L910.0 470.8L901.7 470.8Z" fill="#d5432b"/>
<path d="M805.8 496.7L817.5 496.7L817.5 506.7L805.8 506.7Z" fill="#f0862e"/>
<path d="M830.8 497.5L841.7 497.5L841.7 506.7L830.8 506.7Z" fill="#d5432b"/>
<path d="M855.0 497.5L866.7 497.5L866.7 515.0L855.0 515.0Z" fill="#d5432b"/>
<path d="M901.7 498.3L910.0 498.3L910.0 511.7L905.8 513.3L901.7 506.7Z" fill="#d5432b"/>
<path d="M876.7 509.2L883.3 509.2L881.7 515.0L888.3 521.7L883.3 523.3L876.7 516.7Z" fill="#d5432b"/>
<path d="M765.0 518.3L775.8 518.3L775.8 530.0L772.5 530.0L772.5 541.7L764.2 541.7Z" fill="#d5432b"/>
<path d="M776.7 518.3L790.8 518.3L790.8 530.0L776.7 530.0Z" fill="#d5432b"/>
<path d="M818.3 520.8L841.7 520.8L841.7 531.7L818.3 531.7Z" fill="#d5432b"/>
<path d="M802.5 532.5L816.7 532.5L816.7 544.2L802.5 544.2Z" fill="#d5432b"/>
<path d="M763.3 542.5L772.5 542.5L772.5 557.5L763.3 557.5Z" fill="#f0862e"/>
<path d="M878.3 539.2L888.3 539.2L888.3 551.7L878.3 551.7Z" fill="#d5432b"/>
<path d="M816.7 550.0L822.5 550.0L823.3 553.3L829.2 553.3L829.2 561.7L816.7 560.8Z" fill="#f0862e"/>
<path d="M802.5 555.0L816.7 555.0L816.7 567.5L802.5 567.5Z" fill="#d5432b"/>
<path d="M773.3 559.2L781.7 559.2L781.7 568.3L773.3 568.3Z" fill="#d5432b"/>
<path d="M830.0 558.3L840.0 558.3L840.0 570.0L830.0 570.0Z" fill="#d5432b"/>
<path d="M841.7 561.7L855.8 561.7L855.8 571.7L841.7 571.7Z" fill="#d5432b"/>
<path d="M816.7 571.7L829.2 571.7L829.2 580.8L816.7 580.8Z" fill="#a6c96f"/>
<path d="M762.5 568.3L770.8 568.3L770.8 578.3L762.5 578.3Z" fill="#d5432b"/>
<path d="M885.0 574.2L896.7 574.2L896.7 581.7L885.0 581.7Z" fill="#d5432b"/>
<path d="M671.7 574.2L688.3 575.0L685.0 581.7L683.3 593.3L678.3 600.0L670.0 591.7Z" fill="#d5432b"/>
<path d="M715.8 578.3L736.7 579.2L734.2 611.7L731.7 613.3L728.3 606.7L715.0 598.3Z" fill="#d5432b"/>
<path d="M632.5 590.0L647.5 590.8L648.3 596.7L670.0 593.3L678.3 600.0L685.0 595.0L703.3 597.5L705.0 609.2L715.0 611.7L720.0 622.5L730.0 623.3L732.5 636.7L723.3 640.0L716.7 644.2L708.3 643.3L707.5 627.5L682.5 626.7L678.3 648.3L665.0 651.7L661.7 663.3L651.7 670.0L612.5 668.3L620.0 665.0L623.3 638.3L595.0 633.3L595.0 623.3L607.5 621.7L609.2 614.2L635.8 615.0L636.7 603.3L633.3 600.0Z" fill="#d5432b"/>
<path d="M704.2 598.3L715.0 599.2L727.5 604.2L725.8 622.5L720.0 622.5L715.0 611.7L705.0 609.2Z" fill="#cfcfcf"/>
<path d="M711.7 645.8L715.8 646.7L716.7 653.3L730.0 655.0L727.5 675.8L718.3 673.3L711.7 663.3Z" fill="#d5432b"/>
<path d="M611.7 669.2L650.8 670.8L650.0 685.0L636.7 690.0L618.3 693.3L615.0 676.7Z" fill="#d5432b"/>
<path d="M587.5 672.5L614.2 675.0L617.5 692.5L603.3 695.0L602.5 710.0L596.7 711.7L595.0 693.3L588.3 685.0Z" fill="#d5432b"/>
<path d="M651.7 675.0L663.3 676.7L675.0 679.2L674.2 701.7L685.0 702.5L684.2 715.0L647.5 712.5L648.3 696.7Z" fill="#d5432b"/>
<path d="M579.2 655.0L586.7 655.8L585.8 671.7L580.8 691.7L578.3 676.7L576.7 670.0Z" fill="#d5432b"/>
<path d="M737.5 594.2L755.8 594.2L755.8 605.8L737.5 605.8Z" fill="#f0862e"/>
<path d="M737.5 606.7L754.2 606.7L754.2 616.7L737.5 616.7Z" fill="#d5432b"/>
<path d="M755.0 606.7L767.5 606.7L767.5 618.3L755.0 618.3Z" fill="#f0862e"/>
<path d="M753.3 631.7L765.8 631.7L765.8 643.3L753.3 643.3Z" fill="#d5432b"/>
<path d="M734.2 643.3L744.2 643.3L744.2 655.0L734.2 655.0Z" fill="#d5432b"/>
<path d="M756.7 645.0L768.3 645.0L768.3 656.7L756.7 656.7Z" fill="#d5432b"/>
<path d="M778.3 659.2L790.8 659.2L790.8 671.7L778.3 671.7Z" fill="#d5432b"/>
<path d="M765.0 684.2L777.5 684.2L777.5 695.8L765.0 695.8Z" fill="#f0862e"/>
<path d="M760.8 696.7L773.3 696.7L773.3 708.3L760.8 708.3Z" fill="#cfcfcf"/>
<path d="M705.8 720.8L720.0 721.7L719.2 730.8L713.3 730.0Z" fill="#cfcfcf"/>
<path d="M810.8 648.3L818.3 645.0L824.2 648.3L820.0 655.0L811.7 655.0Z" fill="#d5432b"/>
<path d="M993.3 378.3L1070.0 378.3L1070.0 417.0L1011.7 420.8L1006.7 417.5L1000.0 411.7L996.7 405.0L998.3 396.7L995.0 390.0Z" fill="#d5432b"/>
<path d="M1001.7 379.2L1026.7 379.2L1025.0 385.0L1001.7 384.2Z" fill="#87216b"/>
<path d="M1042.5 398.3L1060.8 397.5L1060.8 406.7L1042.5 407.5Z" fill="#87216b"/>
<path d="M1013.3 411.7L1025.0 411.7L1025.0 418.7L1013.3 419.7Z" fill="#87216b"/>
<path d="M1048.3 408.3L1056.7 408.3L1056.7 415.8L1048.3 416.7Z" fill="#87216b"/>
<path d="M1093.3 378.3L1180.0 378.3L1180.0 405.0L1168.3 421.7L1163.3 428.3L1135.0 431.7L1093.3 435.0L1098.3 421.7L1101.7 405.0L1096.7 390.0Z" fill="#d5432b"/>
<path d="M1133.3 421.7L1155.0 420.8L1155.0 430.0L1133.3 430.8Z" fill="#87216b"/>
<path d="M1103.3 425.8L1111.7 425.8L1111.7 433.3L1103.3 433.3Z" fill="#87216b"/>
<path d="M1150.8 379.2L1160.0 379.2L1158.3 384.2L1151.7 385.0Z" fill="#87216b"/>
<path d="M948.3 402.5L958.3 402.5L958.3 420.8L948.3 420.8Z" fill="#d5432b"/>
<path d="M968.3 402.5L977.5 402.5L978.3 428.3L970.0 428.3L969.2 420.8Z" fill="#d5432b"/>
<path d="M988.3 405.0L997.5 405.0L999.2 426.7L989.2 426.7Z" fill="#d5432b"/>
<path d="M920.0 412.5L929.2 412.5L929.2 430.0L920.0 430.0Z" fill="#d5432b"/>
<path d="M930.0 420.0L938.3 420.0L939.2 428.3L930.0 428.3Z" fill="#d5432b"/>
<path d="M915.8 433.3L925.8 433.3L925.8 442.5L915.8 442.5Z" fill="#d5432b"/>
<path d="M975.0 430.0L994.2 429.2L994.2 450.8L985.0 450.8L985.0 440.8L975.0 440.8Z" fill="#d5432b"/>
<path d="M965.8 442.5L975.0 442.5L975.0 451.7L965.8 451.7Z" fill="#d5432b"/>
<path d="M953.3 451.7L973.3 451.7L973.3 461.7L953.3 461.7Z" fill="#d5432b"/>
<path d="M988.3 460.0L1003.3 456.7L1003.3 470.0L996.7 473.3L988.3 470.0Z" fill="#d5432b"/>
<path d="M901.7 463.3L910.0 463.3L910.0 470.8L901.7 470.8Z" fill="#d5432b"/>
<path d="M929.2 463.3L938.3 463.3L938.3 470.0L929.2 470.0Z" fill="#d5432b"/>
<path d="M949.2 470.0L959.2 470.0L959.2 478.3L949.2 478.3Z" fill="#f0862e"/>
<path d="M970.0 470.0L988.3 469.2L988.3 476.7L970.0 477.5Z" fill="#d5432b"/>
<path d="M879.2 426.7L886.7 426.7L888.3 435.0L879.2 436.7Z" fill="#d5432b"/>
<path d="M1011.7 420.8L1070.0 417.0L1076.7 435.0L1077.5 460.0L1071.7 473.3L1076.7 496.7L1071.7 506.7L1063.3 510.0L1056.7 513.3L1060.0 521.7L1070.0 530.0L1070.0 538.3L1060.0 538.3L1055.0 516.7L1048.3 506.7L1040.0 496.7L1030.0 500.0L1016.7 503.3L1015.0 496.7L1026.7 493.3L1033.3 486.7L1023.3 490.0L1018.3 480.0L1006.7 486.7L1006.7 473.3L1015.0 470.0L1016.7 460.0L1005.0 458.3L1003.3 451.7L1013.3 446.7L1020.0 435.0L1013.3 426.7Z" fill="#d5432b"/>
<path d="M1046.7 420.0L1060.0 419.2L1060.8 435.0L1048.3 435.0Z" fill="#87216b"/>
<path d="M1032.5 436.7L1045.8 436.7L1045.8 445.0L1032.5 445.0Z" fill="#87216b"/>
<path d="M1041.7 445.0L1061.7 446.7L1063.3 466.7L1053.3 468.3L1053.3 460.0L1042.5 460.0Z" fill="#87216b"/>
<path d="M1016.7 460.0L1025.0 460.0L1025.0 470.0L1016.7 470.0Z" fill="#87216b"/>
<path d="M1071.7 475.0L1077.5 475.0L1077.5 486.7L1071.7 486.7Z" fill="#87216b"/>
<path d="M1015.0 508.3L1023.3 507.5L1023.3 515.8L1015.0 515.8Z" fill="#d5432b"/>
<path d="M1038.3 550.0L1048.3 550.0L1048.3 560.8L1038.3 560.8Z" fill="#d5432b"/>
<path d="M1060.8 550.0L1070.0 550.0L1070.0 560.8L1060.8 560.8Z" fill="#d5432b"/>
<path d="M1100.0 443.3L1108.3 443.3L1108.3 451.7L1100.0 451.7Z" fill="#d5432b"/>
<path d="M1130.0 456.7L1135.8 456.7L1135.8 465.8L1130.0 465.8Z" fill="#d5432b"/>
<path d="M1122.5 472.5L1130.0 472.5L1130.0 480.0L1122.5 480.0Z" fill="#d5432b"/>
<path d="M1088.3 499.2L1093.3 499.2L1094.2 508.3L1088.3 510.0Z" fill="#d5432b"/>
<path d="M1100.8 505.0L1114.2 504.2L1114.2 512.5L1106.7 513.3L1100.8 515.0Z" fill="#d5432b"/>
<path d="M1122.5 501.7L1130.0 499.2L1130.8 506.7L1123.3 509.2Z" fill="#d5432b"/>
<path d="M905.0 480.8L915.0 480.8L915.0 488.3L909.2 488.3Z" fill="#f0862e"/>
<path d="M915.0 481.7L926.7 481.7L926.7 490.8L915.8 490.8Z" fill="#d5432b"/>
<path d="M945.0 480.0L953.3 480.0L953.3 487.5L945.0 487.5Z" fill="#d5432b"/>
<path d="M975.8 479.2L984.2 479.2L984.2 485.8L975.8 485.8Z" fill="#f0862e"/>
<path d="M956.7 504.2L968.3 504.2L968.3 513.3L962.5 515.8L956.7 511.7Z" fill="#d5432b"/>
<path d="M992.5 519.2L1000.8 519.2L1000.8 528.3L995.0 530.8L992.5 526.7Z" fill="#d5432b"/>
<path d="M900.8 498.3L910.8 498.3L910.8 505.8L900.8 505.8Z" fill="#d5432b"/>
<path d="M879.2 510.0L883.3 510.0L886.7 521.7L879.2 523.3Z" fill="#d5432b"/>
<path d="M913.3 513.3L920.0 513.3L920.0 526.7L913.3 526.7Z" fill="#d5432b"/>
<path d="M908.3 525.0L917.5 525.0L917.5 531.7L908.3 531.7Z" fill="#d5432b"/>
<path d="M879.2 539.2L888.3 539.2L888.3 551.7L879.2 551.7Z" fill="#d5432b"/>
<path d="M916.7 543.3L925.8 543.3L925.8 552.5L916.7 552.5Z" fill="#d5432b"/>
<path d="M885.0 574.2L896.7 574.2L896.7 581.7L885.0 581.7Z" fill="#d5432b"/>
<path d="M940.0 556.7L948.3 556.7L949.2 574.2L940.0 574.2Z" fill="#d5432b"/>
<path d="M951.7 551.7L962.5 550.8L961.7 556.7L951.7 558.3Z" fill="#f0862e"/>
<path d="M962.5 547.5L970.8 547.5L976.7 555.0L975.8 558.3L967.5 556.7L967.5 568.3L960.0 568.3L960.0 556.7Z" fill="#d5432b"/>
<path d="M981.7 545.0L993.3 544.2L994.2 550.0L983.3 551.7Z" fill="#d5432b"/>
<path d="M1018.3 550.0L1023.3 550.8L1021.7 556.7L1028.3 561.7L1035.0 562.5L1035.0 575.8L1028.3 577.5L1026.7 570.0L1016.7 570.8L1015.0 576.7L1016.7 579.2L1016.7 585.8L1005.0 585.0L1004.2 579.2L1011.7 577.5L1005.0 569.2L1004.2 560.0L1016.7 560.0Z" fill="#d5432b"/>
<path d="M1039.2 550.0L1050.0 550.0L1050.0 560.0L1039.2 560.0Z" fill="#d5432b"/>
<path d="M1060.0 550.8L1072.5 550.0L1071.7 558.3L1060.8 559.2Z" fill="#d5432b"/>
<path d="M1070.0 564.2L1077.5 562.5L1079.2 567.5L1075.0 570.0L1079.2 575.0L1075.0 579.2L1071.7 574.2L1072.5 569.2Z" fill="#d5432b"/>
<path d="M1029.2 590.0L1034.2 590.0L1033.3 596.7L1035.0 607.5L1026.7 607.5L1031.7 598.3Z" fill="#d5432b"/>
<path d="M985.0 597.5L1003.3 597.5L1004.2 611.7L996.7 611.7L991.7 618.3L980.0 618.3L979.2 613.3L984.2 609.2Z" fill="#d5432b"/>
<path d="M966.7 608.3L979.2 609.2L979.2 618.3L966.7 618.3Z" fill="#d5432b"/>
<path d="M1005.0 613.3L1010.8 613.3L1011.7 627.5L1006.7 628.3L998.3 625.8L1003.3 623.3Z" fill="#d5432b"/>
<path d="M1080.0 593.3L1090.0 593.3L1090.0 597.5L1080.8 598.3Z" fill="#d5432b"/>
<path d="M1173.3 610.8L1181.7 610.0L1180.0 615.8L1174.2 616.7Z" fill="#d5432b"/>
<path d="M1182.5 575.8L1189.2 575.8L1187.5 581.7L1183.3 580.8Z" fill="#d5432b"/>
<path d="M900.0 690.0L912.5 688.3L912.5 699.2L900.8 700.0Z" fill="#d5432b"/>
<path d="M1080.8 690.8L1084.2 693.3L1085.8 700.0L1090.8 702.5L1086.7 706.7L1089.2 711.7L1085.8 720.8L1080.0 720.8Z" fill="#d5432b"/>
<path d="M1098.8 398.8L1171.2 398.8L1162.5 425.0L1133.8 432.0L1098.8 435.0Z" fill="#d5432b"/>
<path d="M1135.0 421.2L1153.8 420.0L1153.8 430.5L1135.0 431.8Z" fill="#87216b"/>
<path d="M1103.8 426.2L1111.2 426.2L1111.2 433.0L1103.8 433.0Z" fill="#87216b"/>
<path d="M1098.8 443.8L1107.5 443.8L1107.5 452.5L1098.8 452.5Z" fill="#d5432b"/>
<path d="M1130.0 456.2L1135.0 456.2L1135.0 466.2L1131.2 466.2Z" fill="#d5432b"/>
<path d="M1122.5 472.5L1130.0 472.5L1130.0 481.2L1123.8 481.2Z" fill="#d5432b"/>
<path d="M1100.0 505.0L1113.8 505.0L1113.8 515.0L1101.2 516.2Z" fill="#d5432b"/>
<path d="M1122.5 500.0L1130.0 498.8L1131.2 507.5L1123.8 510.0Z" fill="#d5432b"/>
<path d="M1216.2 437.5L1225.0 437.5L1225.0 445.0L1216.2 445.0Z" fill="#d5432b"/>
<path d="M1283.8 400.0L1315.0 398.8L1315.0 408.8L1300.0 408.8L1298.8 413.8L1285.0 413.8Z" fill="#d5432b"/>
<path d="M1243.8 426.2L1252.5 423.8L1253.8 436.2L1245.0 437.5Z" fill="#d5432b"/>
<path d="M1253.8 438.8L1263.8 437.5L1263.8 451.2L1252.5 452.5Z" fill="#d5432b"/>
<path d="M1233.8 448.8L1245.0 447.5L1246.2 460.0L1236.2 460.0Z" fill="#d5432b"/>
<path d="M1333.8 436.2L1348.8 442.5L1342.5 452.5L1330.0 456.2L1328.8 448.8Z" fill="#d5432b"/>
<path d="M1258.8 483.8L1265.0 480.0L1275.0 470.0L1285.0 471.2L1275.0 475.0L1270.0 485.0L1267.5 496.2L1252.5 493.8L1250.0 487.5Z" fill="#d5432b"/>
<path d="M1302.5 477.5L1312.5 476.2L1323.8 478.8L1325.0 487.5L1320.0 487.5L1312.5 482.5L1303.8 482.5Z" fill="#d5432b"/>
<path d="M1322.5 462.5L1328.8 462.5L1328.8 472.5L1322.5 471.2Z" fill="#d5432b"/>
<path d="M1203.8 513.8L1212.5 511.2L1216.2 517.5L1225.0 510.0L1231.2 516.2L1225.0 522.5L1235.0 530.0L1238.8 540.0L1235.0 547.5L1225.0 550.0L1212.5 550.0L1211.2 545.0L1225.0 542.5L1231.2 535.0L1225.0 531.2L1217.5 530.0L1210.0 522.5L1205.0 522.5Z" fill="#d5432b"/>
<path d="M1236.2 507.5L1245.0 507.5L1246.2 513.8L1240.0 518.8L1235.0 513.8Z" fill="#d5432b"/>
<path d="M1255.0 510.0L1263.8 510.0L1263.8 517.5L1256.2 517.5Z" fill="#d5432b"/>
<path d="M1242.5 546.2L1250.0 543.8L1252.5 551.2L1245.0 555.0Z" fill="#d5432b"/>
<path d="M1277.5 571.2L1285.0 570.0L1285.0 580.0L1282.5 591.2L1273.8 592.5L1273.8 585.0L1277.5 583.8Z" fill="#d5432b"/>
<path d="M1218.8 577.5L1226.2 578.8L1225.0 583.8L1218.8 583.8Z" fill="#d5432b"/>
<path d="M1182.5 576.2L1188.8 576.2L1187.5 581.2L1182.5 581.2Z" fill="#d5432b"/>
<path d="M1173.8 610.0L1182.5 610.0L1180.0 616.2L1173.8 616.2Z" fill="#d5432b"/>
<path d="M1305.0 583.8L1315.0 583.8L1315.0 597.5L1305.0 596.2Z" fill="#d5432b"/>
<path d="M586.7 299.2L737.2 299.2L734.2 344.2L594.2 328.3L590.8 318.3Z" fill="#87216b"/>
<path d="M594.2 328.3L733.3 344.2L725.0 459.2L576.7 441.7Z" fill="#87216b"/>
<path d="M736.7 318.7L885.8 325.0L880.0 333.3L885.8 340.0L886.7 396.7L890.0 416.7L890.8 428.3L883.3 424.2L870.0 416.7L860.0 415.0L843.3 408.3L730.0 402.5L734.2 344.2Z" fill="#87216b"/>
<path d="M730.0 402.5L843.3 408.3L860.0 415.3L870.0 417.0L883.3 424.5L890.8 428.7L890.8 460.0L725.8 460.0Z" fill="#87216b"/>
<path d="M605.0 299.2L628.3 299.2L620.0 315.0L615.0 325.0L595.0 327.5L596.7 316.7Z" fill="#d5432b"/>
<path d="M641.7 299.2L666.7 299.2L668.3 306.7L656.7 310.0L653.3 320.0L641.7 316.7Z" fill="#d5432b"/>
<path d="M696.7 299.2L720.8 299.2L716.7 341.7L690.0 340.0L693.3 320.0Z" fill="#d5432b"/>
<path d="M721.7 299.2L736.7 299.2L736.7 315.0L730.0 315.8L720.8 310.0Z" fill="#a6c96f"/>
<path d="M720.0 311.7L730.0 315.8L736.7 315.0L734.2 344.2L714.2 342.5L716.7 325.0Z" fill="#cfcfcf"/>
<path d="M569.2 365.0L581.7 366.7L585.8 371.7L585.8 381.7L569.2 380.0Z" fill="#d5432b"/>
<path d="M641.7 359.2L668.3 362.5L669.2 380.0L660.0 380.8L656.7 375.0L643.3 366.7Z" fill="#d5432b"/>
<path d="M688.3 385.0L712.5 385.8L711.7 410.8L701.7 415.0L700.0 420.0L696.7 416.7L686.7 415.0Z" fill="#d5432b"/>
<path d="M686.7 415.0L700.0 420.0L703.3 413.3L703.3 441.7L698.3 456.7L676.7 455.8L676.7 445.0L683.3 443.3Z" fill="#d5432b"/>
<path d="M716.7 413.3L726.7 414.2L725.8 443.3L713.3 442.5L715.0 426.7Z" fill="#d5432b"/>
<path d="M587.5 375.8L595.0 378.3L593.3 406.7L602.5 409.2L600.0 428.3L580.0 425.0L582.5 406.7Z" fill="#d5432b"/>
<path d="M738.3 299.2L760.0 299.2L760.0 309.2L738.3 309.2Z" fill="#cfcfcf"/>
<path d="M738.3 310.0L776.7 310.8L776.7 318.3L737.5 317.5Z" fill="#87216b"/>
<path d="M776.7 323.3L885.8 325.0L880.0 333.3L885.8 340.0L886.7 396.7L890.0 416.7L890.8 428.3L883.3 424.2L870.0 416.7L860.0 415.0L843.3 408.3L770.8 404.2L770.8 395.8L776.7 358.3Z" fill="#d5432b"/>
<path d="M736.7 320.0L758.3 320.8L757.5 340.0L736.7 339.2Z" fill="#f0862e"/>
<path d="M734.2 357.5L741.7 357.5L744.2 370.0L734.2 369.2Z" fill="#d5432b"/>
<path d="M786.7 335.8L810.0 335.8L810.0 348.3L823.3 349.2L823.3 355.0L791.7 357.5L786.7 349.2Z" fill="#87216b"/>
<path d="M823.3 325.0L841.7 325.8L841.7 343.3L823.3 343.3Z" fill="#87216b"/>
<path d="M776.7 358.3L791.7 357.5L793.3 373.3L790.0 386.7L788.3 395.0L770.8 395.0L772.5 376.7L774.2 363.3Z" fill="#f0862e"/>
<path d="M794.2 374.2L806.7 373.3L826.7 378.3L827.5 386.7L823.3 393.3L810.0 386.7L793.3 383.3Z" fill="#87216b"/>
<path d="M829.2 354.2L841.7 354.2L842.5 373.3L826.7 374.2L830.0 366.7Z" fill="#f0862e"/>
<path d="M821.7 355.0L829.2 355.0L829.2 373.3L822.5 373.3Z" fill="#cfcfcf"/>
<path d="M836.7 374.2L848.3 374.2L848.3 381.7L836.7 381.7Z" fill="#cfcfcf"/>
<path d="M823.3 394.2L830.0 395.0L840.0 406.7L823.3 405.8Z" fill="#f0862e"/>
<path d="M830.0 390.0L843.3 398.3L853.3 408.3L860.0 415.0L843.3 408.3L835.0 400.0Z" fill="#87216b"/>
<path d="M860.0 365.8L873.3 365.8L873.3 373.3L860.0 373.3Z" fill="#87216b"/>
<path d="M860.0 374.2L868.3 374.2L868.3 385.0L860.0 385.0Z" fill="#87216b"/>
<path d="M856.7 385.0L870.0 385.0L870.0 395.0L856.7 395.0Z" fill="#87216b"/>
<path d="M853.3 395.8L867.5 395.8L867.5 403.3L853.3 403.3Z" fill="#87216b"/>
<path d="M880.0 375.8L886.7 375.8L886.7 383.3L880.0 383.3Z" fill="#87216b"/>
<path d="M875.0 385.0L886.7 385.0L886.7 395.0L875.0 395.0Z" fill="#87216b"/>
<path d="M878.3 396.7L885.0 396.7L885.8 415.0L878.3 415.0Z" fill="#87216b"/>
<path d="M873.3 326.7L883.3 326.7L885.0 350.0L880.0 350.0L875.0 340.0Z" fill="#87216b"/>
<path d="M770.0 407.5L810.0 408.3L820.0 415.0L820.0 433.3L770.0 432.5Z" fill="#f0862e"/>
<path d="M820.0 415.8L829.2 415.8L829.2 433.3L820.0 433.3Z" fill="#d5432b"/>
<path d="M740.0 405.8L755.0 406.7L755.0 420.0L740.0 419.2Z" fill="#d5432b"/>
<path d="M768.3 433.3L781.7 433.3L781.7 442.5L768.3 442.5Z" fill="#cfcfcf"/>
<path d="M782.5 434.2L794.2 434.2L794.2 442.5L782.5 442.5Z" fill="#d5432b"/>
<path d="M727.5 440.8L740.0 440.8L740.0 450.0L727.5 450.0Z" fill="#d5432b"/>
<path d="M838.3 445.8L847.5 445.8L847.5 454.2L838.3 454.2Z" fill="#d5432b"/>
<path d="M848.3 425.8L858.3 425.8L858.3 440.0L848.3 440.0Z" fill="#d5432b"/>
<path d="M868.3 428.3L878.3 428.3L878.3 435.0L868.3 435.0Z" fill="#d5432b"/>
<path d="M753.3 470.0L765.0 470.0L765.0 478.3L753.3 478.3Z" fill="#d5432b"/>
<path d="M305.0 160.0L393.3 164.2L498.3 193.7L484.2 276.7L488.3 288.3L478.3 301.7L468.3 316.7L471.7 330.8L305.0 330.8Z" fill="#d5432b"/>
<path d="M351.7 170.0L358.3 176.7L373.3 183.3L383.3 185.8L386.7 193.3L386.7 200.0L380.0 201.7L370.0 200.0L351.7 197.5Z" fill="#f0862e"/>
<path d="M382.5 172.5L395.0 172.5L395.0 181.7L383.3 181.7Z" fill="#f0862e"/>
<path d="M366.7 201.7L376.7 200.8L381.7 206.7L380.0 214.2L370.0 215.8L366.7 211.7Z" fill="#87216b"/>
<path d="M403.3 227.5L410.0 230.0L418.3 240.0L430.0 240.8L429.2 250.0L426.7 263.3L421.7 266.7L393.3 260.0L396.7 248.3L400.0 236.7Z" fill="#87216b"/>
<path d="M435.0 228.3L440.0 207.5L456.7 208.3L455.0 216.7L451.7 230.0L450.0 240.8L440.0 245.8L431.7 245.0L432.5 233.3Z" fill="#87216b"/>
<path d="M465.0 186.7L477.5 189.2L475.8 206.7L469.2 218.3L460.0 214.2L462.5 200.0Z" fill="#f0862e"/>
<path d="M478.3 189.2L493.3 192.5L486.7 198.3L485.8 216.7L480.0 220.0L470.0 216.7L475.8 206.7Z" fill="#87216b"/>
<path d="M478.3 221.7L491.7 218.3L489.2 240.0L475.0 238.3Z" fill="#87216b"/>
<path d="M440.8 248.3L461.7 250.0L456.7 256.7L450.0 260.8L441.7 260.0Z" fill="#87216b"/>
<path d="M461.7 256.7L470.0 256.7L471.7 270.0L463.3 271.7L460.0 265.0Z" fill="#f0862e"/>
<path d="M365.0 236.7L381.7 240.8L380.0 250.0L377.5 260.8L370.8 259.2L370.0 250.0Z" fill="#87216b"/>
<path d="M345.8 248.3L355.0 250.0L353.3 263.3L346.7 266.7L340.0 267.5Z" fill="#f0862e"/>
<path d="M354.2 278.3L361.7 268.3L366.7 280.0L380.0 283.3L376.7 288.3L355.0 281.7Z" fill="#87216b"/>
<path d="M399.2 278.3L404.2 269.2L412.5 268.3L412.5 276.7L408.3 285.0L403.3 283.3Z" fill="#cfcfcf"/>
<path d="M420.0 276.7L421.7 270.0L461.7 272.5L461.7 278.3L456.7 283.3L453.3 288.3L445.0 290.0L445.0 296.7L425.0 291.7Z" fill="#87216b"/>
<path d="M465.0 276.7L482.5 277.5L488.3 288.3L478.3 301.7L470.0 298.3L465.0 290.0Z" fill="#f0862e"/>
<path d="M390.0 305.0L400.0 300.0L413.3 305.0L416.7 315.0L411.7 326.7L396.7 323.3L386.7 313.3Z" fill="#87216b"/>
<path d="M443.3 315.0L453.3 300.0L475.0 303.3L478.3 305.0L466.7 320.0L471.7 330.8L443.3 330.8Z" fill="#87216b"/>
<path d="M310.8 323.3L317.5 324.2L318.3 330.8L310.0 330.8Z" fill="#f0862e"/>
<path d="M296.7 329.2L471.7 329.2L456.7 388.3L395.0 374.7L310.0 350.3Z" fill="#d5432b"/>
<path d="M305.0 329.2L323.7 329.2L319.5 340.0L318.7 350.0L309.7 348.3Z" fill="#f0862e"/>
<path d="M335.0 329.2L354.2 329.2L350.0 358.3L330.8 353.3Z" fill="#87216b"/>
<path d="M376.7 329.2L408.3 329.2L403.3 351.7L413.3 356.7L410.0 375.0L378.3 367.5L381.7 348.3Z" fill="#87216b"/>
<path d="M443.3 329.2L471.7 329.2L456.7 387.5L433.3 380.8Z" fill="#87216b"/>
<path d="M286.7 350.3L395.0 375.0L517.5 404.2L496.7 511.7L296.7 511.7Z" fill="#87216b"/>
<path d="M301.7 365.8L313.3 368.3L318.3 378.3L330.0 385.0L338.3 378.3L336.7 385.0L361.7 388.3L358.3 408.3L323.3 405.0L320.0 413.3L313.3 413.3L311.7 426.7L310.0 445.0L290.0 445.0L288.3 396.7Z" fill="#d5432b"/>
<path d="M347.5 445.0L353.3 441.7L365.0 441.7L373.3 445.8L372.5 449.2L363.3 446.7L353.3 447.5L349.2 450.8Z" fill="#d5432b"/>
<path d="M382.5 447.5L390.0 445.0L386.7 451.7L383.3 451.7Z" fill="#f0862e"/>
<path d="M375.0 456.7L383.3 455.0L388.3 461.7L383.3 470.0L380.0 463.3Z" fill="#d5432b"/>
<path d="M303.3 461.7L307.5 463.3L313.3 468.3L311.7 471.7L305.0 469.2Z" fill="#d5432b"/>
<path d="M317.5 482.5L330.0 483.3L330.0 490.0L320.0 490.8Z" fill="#d5432b"/>
<path d="M353.3 485.8L366.7 475.0L375.0 480.8L381.7 495.0L373.3 501.7L358.3 506.7L355.0 495.0Z" fill="#d5432b"/>
<path d="M402.5 498.3L418.3 486.7L425.0 496.7L427.5 510.8L410.0 510.8Z" fill="#cfcfcf"/>
<path d="M405.0 380.0L455.8 389.2L453.3 410.0L448.3 427.5L435.8 422.5L435.0 415.0L413.3 411.7L411.7 408.3L403.3 406.7Z" fill="#d5432b"/>
<path d="M457.5 420.8L467.5 421.7L466.7 447.5L505.8 454.2L500.0 495.0L478.3 489.2L468.3 476.7L463.3 473.3L447.5 470.0L452.5 450.0Z" fill="#d5432b"/>
<path d="M456.7 388.3L471.7 329.2L591.7 329.2L578.3 413.3L517.5 404.2Z" fill="#87216b"/>
<path d="M503.3 365.8L511.7 365.8L510.8 380.0L505.0 378.3Z" fill="#d5432b"/>
<path d="M530.0 370.0L536.7 371.7L531.7 386.7L524.2 385.8L526.7 380.0Z" fill="#d5432b"/>
<path d="M508.3 329.2L540.0 329.2L546.7 341.7L553.3 350.0L566.7 351.7L573.3 361.7L585.0 368.3L585.0 381.7L563.3 383.3L563.3 400.0L556.7 396.7L555.0 385.0L545.0 380.0L546.7 366.7L536.7 360.0L530.0 350.0L516.7 343.3Z" fill="#d5432b"/>
<path d="M536.7 329.2L553.3 329.2L553.3 341.7L546.7 341.7Z" fill="#f0862e"/>
<path d="M550.8 341.7L555.0 336.7L587.5 334.7L578.3 345.0L570.0 350.0L553.3 350.0Z" fill="#cfcfcf"/>
<path d="M586.7 378.3L593.3 378.3L592.5 406.7L600.8 408.3L600.8 428.3L580.8 425.8L582.5 400.0Z" fill="#d5432b"/>
<path d="M566.7 475.8L595.0 478.3L588.3 510.8L560.0 510.8Z" fill="#d5432b"/>
<path d="M1010.8 419.2L1068.3 416.7L1073.3 430.0L1077.5 440.0L1080.0 510.0L1077.5 526.7L1073.3 556.7L1066.7 563.3L1051.7 578.3L1043.3 568.3L1038.3 556.7L1025.0 546.7L1021.7 526.7L1011.7 516.7L998.3 496.7L994.2 483.3L998.3 475.0L1005.0 465.0L1001.7 455.0L1013.3 446.7L1020.0 436.7L1015.8 426.7Z" fill="#87216b"/>
<path d="M1013.3 420.0L1046.7 419.7L1046.7 428.3L1013.3 428.7Z" fill="#d5432b"/>
<path d="M1060.0 419.2L1068.3 417.5L1073.3 430.0L1075.8 440.0L1077.5 473.3L1065.8 474.2L1064.2 460.0L1061.7 460.0L1061.7 445.0L1060.0 445.0Z" fill="#d5432b"/>
<path d="M1020.8 428.3L1053.3 428.0L1053.3 436.7L1020.8 437.0Z" fill="#d5432b"/>
<path d="M1020.0 436.7L1031.7 436.7L1031.7 445.0L1020.0 445.3Z" fill="#d5432b"/>
<path d="M1046.7 436.7L1053.3 436.7L1053.3 445.0L1046.7 445.0Z" fill="#d5432b"/>
<path d="M1003.3 445.8L1041.7 445.0L1041.7 460.0L1015.8 460.0L1015.8 471.7L1005.0 472.0L1001.7 460.0Z" fill="#d5432b"/>
<path d="M1025.0 460.0L1030.0 460.0L1030.0 465.0L1025.0 465.0Z" fill="#d5432b"/>
<path d="M1005.8 472.0L1028.3 471.7L1030.0 476.7L1035.0 477.0L1035.0 488.3L1015.8 488.3L1015.8 483.3L1006.7 483.3Z" fill="#d5432b"/>
<path d="M1048.3 468.3L1058.3 468.3L1058.3 481.7L1048.3 481.7Z" fill="#d5432b"/>
<path d="M1060.0 476.7L1071.7 476.7L1071.7 491.7L1060.0 491.7Z" fill="#d5432b"/>
<path d="M1016.7 493.3L1043.3 492.5L1043.3 505.0L1016.7 505.8Z" fill="#d5432b"/>
<path d="M1045.0 490.0L1055.0 490.0L1055.0 500.0L1045.0 500.0Z" fill="#d5432b"/>
<path d="M1060.0 491.7L1080.0 491.7L1080.0 506.7L1060.0 506.7Z" fill="#d5432b"/>
<path d="M1015.0 506.7L1024.2 506.7L1024.2 516.7L1015.0 516.7Z" fill="#d5432b"/>
<path d="M1048.3 501.7L1060.0 501.7L1060.0 513.3L1065.0 513.3L1065.0 523.3L1055.0 523.3L1055.0 513.3L1048.3 513.3Z" fill="#d5432b"/>
<path d="M1058.3 521.7L1073.3 521.7L1073.3 530.0L1071.7 530.0L1071.7 540.0L1058.3 540.0Z" fill="#d5432b"/>
<path d="M1039.2 550.0L1050.0 550.0L1050.0 560.0L1039.2 560.0Z" fill="#d5432b"/>
<path d="M1060.0 550.0L1072.5 550.0L1072.5 559.2L1060.0 559.2Z" fill="#d5432b"/>
<path d="M910.0 725.0L921.2 725.0L922.5 735.0L920.0 742.5L913.8 738.8L910.0 730.0Z" fill="#d5432b"/>
<path d="M936.2 737.5L945.0 738.8L945.0 752.5L937.5 751.2Z" fill="#d5432b"/>
<path d="M910.0 755.0L921.2 746.2L925.0 752.5L916.2 761.2Z" fill="#d5432b"/>
<path d="M808.8 742.5L818.8 742.5L818.8 756.2L808.8 756.2Z" fill="#d5432b"/>
<path d="M957.5 746.2L972.5 745.0L973.8 758.8L957.5 758.8Z" fill="#d5432b"/>
<path d="M970.0 760.0L980.0 760.0L980.0 771.2L968.8 771.2Z" fill="#d5432b"/>
<path d="M980.0 771.2L991.2 771.2L988.8 781.2L981.2 781.2Z" fill="#d5432b"/>
<path d="M986.2 728.8L993.8 728.8L993.8 742.5L987.5 740.0Z" fill="#d5432b"/>
<path d="M1005.0 743.8L1017.5 743.8L1017.5 752.5L1005.0 752.5Z" fill="#d5432b"/>
<path d="M1042.5 730.0L1050.0 730.0L1052.5 740.0L1042.5 741.2Z" fill="#d5432b"/>
<path d="M1070.0 737.5L1080.0 737.5L1080.0 750.0L1070.0 750.0Z" fill="#d5432b"/>
<path d="M1122.5 730.0L1135.0 730.0L1136.2 743.8L1123.8 743.8Z" fill="#d5432b"/>
<path d="M1031.2 773.8L1037.5 772.5L1033.8 782.5L1028.8 783.8Z" fill="#f0862e"/>
<path d="M1273.8 790.0L1283.8 792.5L1285.0 802.5L1288.8 815.0L1280.0 816.2L1277.5 802.5Z" fill="#d5432b"/>
<path d="M1228.8 815.0L1233.8 820.0L1236.2 827.5L1231.2 827.5Z" fill="#d5432b"/>
<path d="M1263.8 825.0L1272.5 823.8L1277.5 832.5L1272.5 840.0L1265.0 840.0Z" fill="#d5432b"/>
<path d="M1286.2 832.5L1298.8 831.2L1301.2 838.8L1285.0 840.0Z" fill="#d5432b"/>
<path d="M1238.8 836.2L1250.0 835.0L1252.5 845.0L1250.0 851.2L1243.8 847.5Z" fill="#d5432b"/>
<path d="M1251.2 835.0L1263.8 833.8L1265.0 850.0L1252.5 851.2Z" fill="#d5432b"/>
<path d="M1262.5 862.5L1270.0 856.2L1275.0 857.5L1276.2 862.5L1286.2 862.5L1287.5 875.0L1291.2 891.2L1285.0 892.5L1275.0 880.0L1266.2 872.5Z" fill="#d5432b"/>
<rect x="745" y="150" width="760" height="780" fill="url(#grid)"/>
<rect x="280" y="150" width="465" height="780" fill="url(#gridw)"/>
<path d="M381.0 182.5L384.5 178.0L389.0 176.0L391.5 181.0L390.5 188.0L391.5 196.0L389.5 204.0L388.0 213.0L386.0 214.0L387.0 205.0L388.5 197.0L387.5 190.0L385.0 186.0Z" fill="#ffffff"/>
<path d="M1343.0 522.0L1340.0 530.0L1337.5 523.0L1336.0 512.0L1333.0 502.0L1331.0 491.0L1329.5 481.0L1329.5 473.0L1331.0 468.0L1332.0 474.0L1332.5 482.0L1334.5 490.0L1337.0 500.0L1339.5 510.0Z" fill="#ffffff"/>
<path d="M1337.0 567.0L1345.0 563.5L1353.0 560.8L1358.5 560.7L1353.0 562.8L1345.0 565.6L1338.0 568.6Z" fill="#ffffff"/>
<path d="M1229.0 814.0L1233.5 814.0L1235.0 826.0L1230.5 825.0Z" fill="#d5432b"/>
<path d="M1236.2 822.5L1234.5 819.0L1236.5 817.0L1238.0 820.0Z" fill="#ffffff"/>
<path d="M1092.5 760.0L1090.5 754.0L1093.0 753.0L1095.0 763.0Z" fill="#ffffff"/>
<path d="M935.0 797.5L931.0 792.0L934.0 789.0L938.0 793.0Z" fill="#ffffff"/>
<path d="M315.0 482.5L318.5 486.0L320.0 491.0L317.0 490.0L314.0 486.0Z" fill="#ffffff"/>
<path d="M1350.5 299.0L1352.0 299.0L1354.5 312.0L1356.0 322.0L1354.0 322.0L1352.0 311.0Z" fill="#ffffff"/>
<path d="M499.0 193.0L482.8 264.7L483.8 277.5" fill="none" stroke="#fff" stroke-width="1.7" stroke-linejoin="round" stroke-linecap="round"/>
<path d="M348.8 236.2L356.0 237.0L365.0 240.0L367.0 249.0L370.0 257.5L375.0 262.0L380.0 263.8L390.0 264.0L400.0 265.0L410.0 267.0L420.0 267.5L432.0 267.0L440.0 268.5L450.0 269.5L460.0 270.0L455.8 270.8L469.2 273.9L482.5 277.0L483.8 277.5" fill="none" stroke="#fff" stroke-width="1.7" stroke-linejoin="round" stroke-linecap="round"/>
<path d="M483.8 277.5L487.0 283.0L490.0 288.8L486.0 296.0L478.8 305.0L473.0 313.0L467.5 322.5L470.0 326.0L471.2 328.8L455.1 388.9" fill="none" stroke="#fff" stroke-width="1.7" stroke-linejoin="round" stroke-linecap="round"/>
<path d="M308.1 350.0L337.8 358.8L367.6 367.2L397.6 375.1L427.6 382.5L457.8 389.5L488.1 396.0L518.5 402.1L548.9 407.7L579.5 412.8" fill="none" stroke="#fff" stroke-width="1.7" stroke-linejoin="round" stroke-linecap="round"/>
<path d="M393.9 374.1L372.2 458.3L465.3 598.4" fill="none" stroke="#fff" stroke-width="1.7" stroke-linejoin="round" stroke-linecap="round"/>
<path d="M517.1 401.8L489.8 544.1" fill="none" stroke="#fff" stroke-width="1.7" stroke-linejoin="round" stroke-linecap="round"/>
<path d="M489.8 544.1L485.4 566.9L487.0 571.0L480.0 568.0L471.0 567.0L470.0 575.0L469.0 585.0L468.0 592.0L465.3 598.4L468.0 601.0L470.0 607.5L472.0 615.0L473.8 622.5L468.0 629.0L462.5 635.0L458.0 641.0L455.0 647.5L455.5 655.0L456.2 661.2" fill="none" stroke="#fff" stroke-width="1.7" stroke-linejoin="round" stroke-linecap="round"/>
<path d="M489.8 544.1L520.6 549.8L551.5 555.0L582.5 559.8L613.5 564.2L644.6 568.1L675.7 571.5L706.9 574.5L738.2 577.0" fill="none" stroke="#fff" stroke-width="1.7" stroke-linejoin="round" stroke-linecap="round"/>
<path d="M759.9 578.5L793.6 580.4L827.2 581.7L860.9 582.6L894.6 582.9L928.3 582.6" fill="none" stroke="#fff" stroke-width="1.7" stroke-linejoin="round" stroke-linecap="round"/>
<path d="M738.2 577.0L737.1 591.5L754.2 592.7L771.3 593.7L788.5 594.6L805.6 595.4L803.2 651.6" fill="none" stroke="#fff" stroke-width="1.7" stroke-linejoin="round" stroke-linecap="round"/>
<path d="M736.2 591.4L726.1 721.2L704.6 719.5L683.1 717.6L661.6 715.5L640.2 713.2" fill="none" stroke="#fff" stroke-width="1.7" stroke-linejoin="round" stroke-linecap="round"/>
<path d="M601.7 562.6L579.2 725.0" fill="none" stroke="#fff" stroke-width="1.7" stroke-linejoin="round" stroke-linecap="round"/>
<path d="M617.4 447.7L601.6 562.5" fill="none" stroke="#fff" stroke-width="1.7" stroke-linejoin="round" stroke-linecap="round"/>
<path d="M579.5 412.8L574.9 441.4L602.2 445.6L629.6 449.4L657.0 452.8L684.5 455.8L712.0 458.5L739.5 460.9L767.1 462.8L765.2 491.7" fill="none" stroke="#fff" stroke-width="1.7" stroke-linejoin="round" stroke-linecap="round"/>
<path d="M579.5 412.8L590.7 342.4" fill="none" stroke="#fff" stroke-width="1.7" stroke-linejoin="round" stroke-linecap="round"/>
<path d="M593.1 327.4L621.2 331.6L649.3 335.5L677.5 338.9L705.7 342.0L734.0 344.6" fill="none" stroke="#fff" stroke-width="1.7" stroke-linejoin="round" stroke-linecap="round"/>
<path d="M590.7 342.4L593.1 327.4" fill="none" stroke="#fff" stroke-width="1.7" stroke-linejoin="round" stroke-linecap="round"/>
<path d="M517.4 197.0L512.5 225.0L515.0 233.0L517.5 240.0L522.0 250.0L527.5 260.0L532.0 265.0L536.2 270.0L533.0 280.0L530.0 290.0L527.5 300.0L533.0 300.0L538.8 298.8L542.0 307.0L545.0 315.0L549.0 324.0L552.5 332.5L555.0 340.0L568.0 339.0L582.5 337.5L587.5 333.8L591.2 340.0" fill="none" stroke="#fff" stroke-width="1.7" stroke-linejoin="round" stroke-linecap="round"/>
<path d="M743.7 230.7L724.2 459.6" fill="none" stroke="#fff" stroke-width="1.7" stroke-linejoin="round" stroke-linecap="round"/>
<path d="M736.3 317.7L766.1 320.0L796.0 321.8L825.9 323.2L855.9 324.0L885.8 324.5" fill="none" stroke="#fff" stroke-width="1.7" stroke-linejoin="round" stroke-linecap="round"/>
<path d="M729.1 402.0L758.0 404.2L786.9 406.1L815.8 407.4L844.8 408.4L840.0 407.0L845.0 408.8L853.0 409.0L860.0 411.0L868.0 413.0L875.0 415.0L880.0 418.0L886.2 422.5" fill="none" stroke="#fff" stroke-width="1.7" stroke-linejoin="round" stroke-linecap="round"/>
<path d="M765.2 491.7L794.6 493.4L823.9 494.6L853.3 495.4L882.7 495.8L912.0 495.8" fill="none" stroke="#fff" stroke-width="1.7" stroke-linejoin="round" stroke-linecap="round"/>
<path d="M765.5 491.7L759.9 578.5" fill="none" stroke="#fff" stroke-width="1.7" stroke-linejoin="round" stroke-linecap="round"/>
<path d="M873.5 237.1L875.0 250.0L877.5 265.0L879.0 278.0L881.2 290.0L883.0 303.0L885.0 315.0L886.2 325.0" fill="none" stroke="#fff" stroke-width="1.7" stroke-linejoin="round" stroke-linecap="round"/>
<path d="M886.2 325.0L882.0 329.0L880.0 333.8L883.0 337.0L886.2 340.0L887.7 394.7" fill="none" stroke="#fff" stroke-width="1.7" stroke-linejoin="round" stroke-linecap="round"/>
<path d="M887.7 394.7L889.0 402.0L888.0 410.0L886.2 422.5L890.0 434.0L895.0 447.5L898.0 461.0L900.0 475.0L904.0 486.0L910.0 496.2L915.0 500.0L920.0 505.0L921.0 511.0L922.5 517.5L928.0 522.5" fill="none" stroke="#fff" stroke-width="1.7" stroke-linejoin="round" stroke-linecap="round"/>
<path d="M887.7 394.7L914.8 394.6L941.9 394.2L969.0 393.4L996.0 392.2" fill="none" stroke="#fff" stroke-width="1.7" stroke-linejoin="round" stroke-linecap="round"/>
<path d="M902.0 479.1L931.1 478.8L960.2 478.1L989.3 477.0L993.8 481.0" fill="none" stroke="#fff" stroke-width="1.7" stroke-linejoin="round" stroke-linecap="round"/>
<path d="M928.0 522.5L928.6 582.6L928.5 597.1L933.4 629.2L933.1 679.9" fill="none" stroke="#fff" stroke-width="1.7" stroke-linejoin="round" stroke-linecap="round"/>
<path d="M933.1 679.9L938.0 683.0L943.6 682.3L943.9 697.6L944.5 727.3L948.0 732.0L953.8 745.0L956.2 760.0L953.0 768.0L950.0 775.0L949.0 784.0L948.8 792.5" fill="none" stroke="#fff" stroke-width="1.7" stroke-linejoin="round" stroke-linecap="round"/>
<path d="M943.9 697.6L978.2 696.6L1012.5 695.2" fill="none" stroke="#fff" stroke-width="1.7" stroke-linejoin="round" stroke-linecap="round"/>
<path d="M928.5 597.1L962.6 596.4L996.6 595.1L1030.7 593.2L1027.0 601.0L1025.0 608.8L1040.0 608.8" fill="none" stroke="#fff" stroke-width="1.7" stroke-linejoin="round" stroke-linecap="round"/>
<path d="M803.2 651.6L812.0 655.0L818.0 660.0L825.0 662.5L832.0 667.0L840.0 669.0L850.0 672.5L858.0 672.0L866.0 675.0L875.0 675.0L884.0 673.0L892.0 675.0L900.0 673.8L908.0 677.0L916.0 676.0L925.0 678.8L932.0 680.0L933.1 679.9" fill="none" stroke="#fff" stroke-width="1.7" stroke-linejoin="round" stroke-linecap="round"/>
<path d="M970.0 302.5L970.0 312.0L970.0 320.0L964.0 325.0L960.0 330.0L960.0 342.0L962.5 355.0L968.0 360.0L975.0 365.0L982.0 372.0L990.0 380.0L994.0 386.0L996.2 392.5L997.0 401.0L997.5 410.0L1003.0 416.0L1010.0 422.5L1016.0 428.0L1020.0 435.0L1019.0 441.0L1015.0 447.5L1008.0 451.0L1002.5 455.0L1003.0 461.0L1005.0 467.5L1000.0 474.0L995.0 480.0L993.5 486.0L993.8 492.5L997.0 500.0L1002.5 507.5L1008.0 515.0L1015.0 522.5L1019.0 526.0L1022.5 530.0L1021.0 535.0L1021.2 540.0L1024.0 545.0L1027.5 550.0L1034.0 555.0L1041.2 560.0L1043.0 566.0L1045.0 572.5L1049.0 575.0L1052.5 577.5L1051.0 581.0L1050.0 585.0L1048.0 589.0L1046.2 592.5L1043.0 601.0L1040.0 610.0L1037.0 616.0L1035.0 622.5L1033.0 629.0L1032.5 635.0L1027.0 643.0L1022.5 650.0L1018.0 658.0L1015.0 665.0L1012.0 672.0L1010.0 680.0L1012.0 688.0L1013.8 695.0L1016.0 704.0L1017.5 712.5L1013.0 720.0L1010.0 727.5L1007.0 735.0L1005.0 742.5L1003.8 752.5" fill="none" stroke="#fff" stroke-width="1.7" stroke-linejoin="round" stroke-linecap="round"/>
<path d="M1003.8 752.5L1027.5 752.7L1050.7 751.3L1050.0 762.5L1054.0 769.0L1057.5 775.0" fill="none" stroke="#fff" stroke-width="1.7" stroke-linejoin="round" stroke-linecap="round"/>
<path d="M1009.7 420.4L1039.5 418.5L1069.3 416.1" fill="none" stroke="#fff" stroke-width="1.7" stroke-linejoin="round" stroke-linecap="round"/>
<path d="M1076.8 436.9L1083.0 506.4L1082.5 530.0L1079.0 538.0L1075.0 545.0L1074.0 551.0L1073.8 557.5" fill="none" stroke="#fff" stroke-width="1.7" stroke-linejoin="round" stroke-linecap="round"/>
<path d="M1052.5 577.5L1055.0 572.5L1061.0 569.0L1067.5 565.0L1071.0 561.0L1073.8 557.5L1079.0 553.0L1085.0 550.0L1092.0 547.0L1100.0 545.0L1105.0 541.0L1110.0 537.5L1117.0 536.0L1125.0 535.0L1129.0 527.0L1132.5 520.0L1137.0 517.0L1142.5 515.0L1143.2 507.5L1149.0 510.0L1155.0 512.5L1165.0 515.0L1175.0 517.5L1181.0 516.0L1187.5 515.0L1194.0 517.0L1200.0 520.0L1201.0 512.0L1202.5 505.0L1207.0 499.0L1212.5 492.5L1219.0 488.0L1225.0 485.0L1223.0 480.0L1220.0 480.0L1224.0 472.0L1227.5 465.0L1225.0 455.0L1223.8 445.0L1229.9 450.2" fill="none" stroke="#fff" stroke-width="1.7" stroke-linejoin="round" stroke-linecap="round"/>
<path d="M1134.3 432.7L1143.2 507.5" fill="none" stroke="#fff" stroke-width="1.7" stroke-linejoin="round" stroke-linecap="round"/>
<path d="M1083.8 436.3L1134.3 431.0L1134.5 432.7L1163.1 428.2" fill="none" stroke="#fff" stroke-width="1.7" stroke-linejoin="round" stroke-linecap="round"/>
<path d="M1223.5 411.4L1234.2 476.5" fill="none" stroke="#fff" stroke-width="1.7" stroke-linejoin="round" stroke-linecap="round"/>
<path d="M1234.2 476.5L1259.7 472.1L1285.2 467.5L1310.5 462.5L1335.9 457.2" fill="none" stroke="#fff" stroke-width="1.7" stroke-linejoin="round" stroke-linecap="round"/>
<path d="M1256.6 472.7L1259.2 487.5L1263.0 482.0L1270.0 477.5L1277.0 474.0L1285.0 471.2L1290.0 475.0L1295.0 480.0L1303.0 482.0L1312.5 485.0L1319.0 486.0L1325.0 487.5L1330.0 494.0L1335.0 500.0" fill="none" stroke="#fff" stroke-width="1.7" stroke-linejoin="round" stroke-linecap="round"/>
<path d="M1200.0 520.0L1198.0 527.5L1197.5 535.0L1203.0 541.0L1210.0 547.5L1217.0 549.0L1225.0 550.0L1233.0 547.0L1240.0 542.5L1245.0 537.0L1250.0 530.0L1255.0 520.0L1260.0 510.0L1266.0 504.0L1272.5 497.5L1276.0 489.0L1280.0 480.0L1285.0 476.0L1290.0 472.5L1293.0 478.0L1295.0 482.5" fill="none" stroke="#fff" stroke-width="1.7" stroke-linejoin="round" stroke-linecap="round"/>
<path d="M1210.0 547.5L1202.0 557.0L1195.0 565.0L1188.0 570.0L1177.6 576.2" fill="none" stroke="#fff" stroke-width="1.7" stroke-linejoin="round" stroke-linecap="round"/>
<path d="M1049.0 589.5L1047.8 592.1L1063.2 591.0L1078.5 589.8L1078.2 585.7L1078.2 586.3L1111.4 583.3L1144.5 579.7L1177.5 575.7" fill="none" stroke="#fff" stroke-width="1.7" stroke-linejoin="round" stroke-linecap="round"/>
<path d="M1177.6 576.5L1200.2 573.5L1222.8 570.2L1222.9 571.3L1255.7 566.1L1288.4 560.3L1321.0 554.1L1353.5 547.4" fill="none" stroke="#fff" stroke-width="1.7" stroke-linejoin="round" stroke-linecap="round"/>
<path d="M1222.8 570.2L1215.0 585.0L1208.0 590.0L1200.0 595.0L1191.0 601.0L1182.5 607.5L1175.0 614.0L1167.5 620.0L1168.7 624.4" fill="none" stroke="#fff" stroke-width="1.7" stroke-linejoin="round" stroke-linecap="round"/>
<path d="M1029.8 636.8L1063.3 634.6L1096.8 631.8L1130.2 628.5L1163.6 624.7L1196.9 620.4" fill="none" stroke="#fff" stroke-width="1.7" stroke-linejoin="round" stroke-linecap="round"/>
<path d="M1196.9 620.4L1200.0 619.0L1210.0 613.8L1225.0 611.0L1240.0 610.0L1247.5 616.2L1261.0 615.0L1275.0 613.8L1291.0 625.0L1307.5 636.2" fill="none" stroke="#fff" stroke-width="1.7" stroke-linejoin="round" stroke-linecap="round"/>
<path d="M1196.9 620.4L1197.0 633.0L1205.0 642.5L1215.0 651.0L1225.0 660.0L1231.0 666.0L1242.5 675.0L1248.0 684.0L1252.5 692.5L1260.0 697.5" fill="none" stroke="#fff" stroke-width="1.7" stroke-linejoin="round" stroke-linecap="round"/>
<path d="M1078.7 633.4L1079.5 723.2L1084.8 767.6" fill="none" stroke="#fff" stroke-width="1.7" stroke-linejoin="round" stroke-linecap="round"/>
<path d="M1139.0 628.0L1155.8 687.7L1160.0 705.0L1161.5 718.0L1161.2 730.0L1165.0 742.5L1168.8 747.5" fill="none" stroke="#fff" stroke-width="1.7" stroke-linejoin="round" stroke-linecap="round"/>
<path d="M1107.5 762.5L1104.0 755.0L1102.8 747.3L1124.0 745.3L1145.1 743.1L1166.3 740.8" fill="none" stroke="#fff" stroke-width="1.7" stroke-linejoin="round" stroke-linecap="round"/>
<path d="M1168.8 747.5L1235.9 744.1L1236.2 748.8L1238.8 737.5L1252.5 736.2" fill="none" stroke="#fff" stroke-width="1.7" stroke-linejoin="round" stroke-linecap="round"/>
<path d="M1335.9 457.2L1343.0 455.0L1348.0 458.0" fill="none" stroke="#fff" stroke-width="1.7" stroke-linejoin="round" stroke-linecap="round"/>
<path d="M1335.9 457.2L1345.6 492.7L1359.7 489.6" fill="none" stroke="#fff" stroke-width="1.7" stroke-linejoin="round" stroke-linecap="round"/>
<path d="M1238.0 401.0L1239.4 408.7L1270.0 403.1L1300.6 397.1L1331.0 390.7L1335.0 395.0L1338.0 400.0L1340.0 405.0L1347.5 407.5L1367.7 412.3" fill="none" stroke="#fff" stroke-width="1.7" stroke-linejoin="round" stroke-linecap="round"/>
<path d="M1340.0 405.0L1338.0 411.0L1336.2 417.5L1339.0 424.0L1342.5 430.0L1346.0 434.0L1350.0 438.8L1346.0 446.0L1343.0 455.0" fill="none" stroke="#fff" stroke-width="1.7" stroke-linejoin="round" stroke-linecap="round"/>
<path d="M1351.8 296.7L1352.0 310.0L1355.0 320.0L1356.0 328.0L1357.5 335.0L1360.0 340.0L1363.8 345.0L1368.9 380.4L1374.2 401.5L1372.5 409.0" fill="none" stroke="#fff" stroke-width="1.7" stroke-linejoin="round" stroke-linecap="round"/>
<path d="M1388.2 287.5L1383.0 300.0L1381.2 310.0L1382.0 318.0L1382.5 325.0L1380.0 335.0L1378.8 345.0L1380.0 355.0L1385.4 356.1" fill="none" stroke="#fff" stroke-width="1.7" stroke-linejoin="round" stroke-linecap="round"/>
<path d="M1369.1 359.9L1409.2 350.8L1415.0 347.0" fill="none" stroke="#fff" stroke-width="1.7" stroke-linejoin="round" stroke-linecap="round"/>
<path d="M1369.1 380.4L1412.6 370.3L1410.0 372.5L1417.0 377.0" fill="none" stroke="#fff" stroke-width="1.7" stroke-linejoin="round" stroke-linecap="round"/>
<path d="M1404.3 372.8L1409.0 391.8" fill="none" stroke="#fff" stroke-width="1.7" stroke-linejoin="round" stroke-linecap="round"/>
<path d="M1393.8 277.5L1401.2 299.2L1410.4 329.6L1415.0 335.0L1418.0 338.0" fill="none" stroke="#fff" stroke-width="1.7" stroke-linejoin="round" stroke-linecap="round"/>
<path d="M1005.0 301.0L1020.0 307.0L1035.0 312.5L1050.0 317.5L1055.0 325.0L1060.0 332.5L1066.0 335.0L1072.5 337.5" fill="none" stroke="#fff" stroke-width="1.7" stroke-linejoin="round" stroke-linecap="round"/>
</g>
<path d="M402.5 730.0L410.0 733.8L417.5 738.8L430.0 740.0L445.0 742.5L452.5 743.8L458.8 747.5L460.0 765.0L461.2 785.0L464.5 815.0L467.5 842.5L471.2 843.8L477.5 845.0L483.8 852.5L490.0 858.8L496.2 856.2L502.5 855.0L511.2 862.5L520.0 870.0L530.0 875.0L537.5 880.0L540.0 886.2L538.8 892.5L532.5 896.2L525.0 897.5L517.5 888.8L510.0 880.0L502.5 872.5L495.0 865.0L487.5 858.8L480.0 852.5L475.0 850.0L470.0 847.5L462.5 848.0L455.0 850.0L450.0 851.2L445.0 850.0L437.5 852.5L430.0 855.0L422.5 858.8L415.0 861.2L411.2 860.0L416.2 852.5L420.0 842.5L412.5 843.8L405.0 845.0L400.0 852.5L396.2 861.2L402.5 866.2L410.0 870.0L406.2 877.5L400.0 882.5L393.8 881.2L392.5 873.8L387.5 872.5L380.0 870.0L375.0 875.0L370.0 880.0L366.2 883.8L362.5 887.5L353.8 890.5L345.0 892.5L337.5 895.5L330.0 897.5L322.5 900.5L315.0 902.5L307.5 905.0L300.0 906.2L307.5 903.0L317.5 900.0L330.0 893.8L341.2 889.5L352.5 885.0L361.2 878.8L370.0 872.5L375.0 866.2L380.0 860.0L375.0 861.2L370.0 862.5L363.8 860.5L357.5 857.5L356.2 851.2L355.0 845.0L350.0 842.5L345.0 840.0L344.2 832.5L343.8 825.0L348.8 817.5L355.0 810.0L362.5 810.8L370.0 812.5L372.5 807.5L375.0 802.5L371.2 800.0L367.5 797.5L360.0 795.0L352.5 792.5L349.2 785.5L346.2 778.8L354.2 775.8L362.5 773.8L368.8 777.0L375.0 780.0L375.0 775.0L375.0 770.0L371.2 767.5L367.5 765.0L364.2 758.8L361.2 752.5L363.0 750.0L365.0 747.5L371.2 745.5L377.5 743.8L380.0 739.2L382.5 735.0L392.5 732.5Z" fill="#d5432b"/>
<g clip-path="url(#ca)">
<path d="M360.0 727.5L460.0 727.5L460.0 760.5L440.0 761.2L440.0 765.5L405.0 766.2L407.0 777.5L395.0 779.5L382.5 780.0L375.0 781.2L365.0 786.2L365.0 776.2L375.0 773.8L377.5 766.2L357.5 766.2Z" fill="#87216b"/>
<path d="M342.5 810.0L356.2 807.5L370.0 811.2L370.0 825.0L405.0 827.5L407.5 830.0L392.5 840.0L376.2 838.0L365.0 855.0L355.0 860.0L340.0 842.5Z" fill="#87216b"/>
<path d="M326.2 891.2L361.2 878.8L367.5 892.5L357.5 901.2L326.2 903.8Z" fill="#87216b"/>
<path d="M392.0 840.0L405.0 841.2L403.8 852.5L396.2 863.8L388.8 873.8L380.0 882.5L366.2 892.5L361.2 880.0L370.0 871.2L380.0 858.8L387.5 852.5Z" fill="#cfcfcf"/>
<path d="M285.0 910.0L297.5 902.5L327.5 895.5L328.8 902.5L302.5 908.8Z" fill="#cfcfcf"/>
<path d="M455.0 847.0L470.0 843.8L480.0 846.2L490.0 855.0L502.5 860.0L505.0 866.2L495.0 866.2L485.0 857.5L475.0 852.5L457.5 852.5Z" fill="#cfcfcf"/>
<path d="M493.8 850.0L502.5 849.5L503.8 855.0L495.0 856.2Z" fill="#f7d23e"/>
<path d="M511.2 875.0L520.0 880.0L530.0 895.0L525.0 900.0L516.2 892.5L510.0 882.5Z" fill="#f7d23e"/>
<path d="M520.0 877.5L535.0 876.2L541.2 887.5L537.5 895.0L530.0 895.0L522.5 885.0Z" fill="#f0862e"/>
<path d="M495.0 856.2L505.0 857.5L513.8 872.5L510.0 877.5L502.5 870.0Z" fill="#cfcfcf"/>
</g>
<path d="M322.5 793.8L326.2 792.5L331.2 797.0L335.5 800.0L334.5 803.0L330.0 802.0L327.0 797.5Z" fill="#d5432b"/>
<path d="M332.0 835.5L337.5 834.5L342.0 837.0L340.0 841.2L334.5 840.0Z" fill="#87216b"/>
<path d="M393.8 877.5L400.0 872.5L406.2 867.5L411.2 870.0L406.2 876.2L400.0 881.2L395.0 883.8Z" fill="#d5432b"/>
<path d="M392.5 886.2L396.2 885.0L397.0 888.0L393.5 889.0Z" fill="#d5432b"/>
<path d="M357.5 897.5L363.8 896.2L364.5 901.2L358.8 902.0Z" fill="#87216b"/>
<path d="M553.8 810.0L556.2 807.0L561.2 805.8L565.8 807.5L566.8 812.0L563.8 815.5L558.8 816.2L555.0 813.8Z" fill="#f7d23e"/>
<path d="M541.2 816.2L543.8 813.0L546.2 812.5L544.5 816.2L542.0 818.0Z" fill="#f7d23e"/>
<path d="M593.0 825.0L597.5 823.8L600.5 821.2L603.8 824.5L608.0 828.0L609.5 832.5L605.0 833.0L600.5 831.2L596.2 830.0Z" fill="#f0862e"/>
<path d="M618.8 836.2L625.0 835.5L631.2 836.0L634.5 838.0L630.0 840.0L623.8 840.0L619.5 839.0Z" fill="#d5432b"/>
<path d="M625.5 845.0L629.2 843.8L632.0 846.2L630.0 849.5L626.8 848.8Z" fill="#d5432b"/>
<path d="M635.5 843.8L638.8 841.2L643.0 842.0L647.5 843.8L652.5 846.2L654.5 850.5L650.0 853.0L644.5 853.8L640.0 850.0L636.2 848.0Z" fill="#d5432b"/>
<path d="M635.0 853.8L638.0 852.5L639.5 854.5L636.5 855.8Z" fill="#d5432b"/>
<path d="M656.2 863.8L662.5 864.5L670.0 867.5L677.0 873.8L682.5 880.0L685.5 886.2L678.8 889.5L672.5 892.5L667.5 897.5L662.5 901.8L658.0 898.0L656.2 892.5L657.0 886.2L658.0 880.0L656.5 872.5Z" fill="#f0862e"/>
<path d="M1262.0 912.0L1270.0 908.0L1278.0 903.0L1280.0 906.0L1272.0 911.0L1264.0 914.0Z" fill="#d5432b"/>
<path d="M1284.0 901.0L1292.0 897.0L1299.0 892.0L1303.0 887.0L1305.0 889.0L1300.0 895.0L1292.0 900.0L1286.0 903.0Z" fill="#d5432b"/>
<path d="M328.2 594.5L332.5 595.5L335.5 597.5L332.5 598.0L329.0 596.2Z" fill="#87216b"/>
<path d="M338.8 597.0L345.0 598.0L349.5 600.0L345.0 600.5L340.0 599.2Z" fill="#87216b"/>
<path d="M342.5 621.2L345.0 622.5L345.8 625.0L343.5 624.0Z" fill="#87216b"/>
<path d="M364.5 622.0L368.8 623.0L372.0 627.0L368.8 626.5L365.5 624.5Z" fill="#87216b"/>
<path d="M363.8 635.0L366.2 636.2L367.5 640.5L365.0 638.8Z" fill="#87216b"/>
<path d="M1358.5 560.7L1363.0 568.0L1366.9 575.6L1366.3 582.0L1361.5 587.5L1355.5 592.0" fill="none" stroke="#87216b" stroke-width="1.0" stroke-dasharray="9 1.5"/>
<g font-family="Liberation Sans, sans-serif" text-anchor="middle">
<text x="312" y="480" font-size="13" fill="#ddd3da" stroke="#ddd3da" stroke-width="0.4" opacity="0.62">San Francisco</text>
<text x="380" y="611" font-size="13" fill="#ddd3da" stroke="#ddd3da" stroke-width="0.4" opacity="0.62">Los Angeles</text>
<text x="877" y="706" font-size="13" fill="#ddd3da" stroke="#ddd3da" stroke-width="0.4" opacity="0.62">Dallas</text>
<text x="913" y="791" font-size="13" fill="#ddd3da" stroke="#ddd3da" stroke-width="0.4" opacity="0.62">Houston</text>
<text x="1045" y="783" font-size="13" fill="#ddd3da" stroke="#ddd3da" stroke-width="0.4" opacity="0.62">New Orleans</text>
<rect x="1060" y="773" width="25" height="12" fill="#e6e6e6" opacity="0.9"/>
<text x="1306" y="873" font-size="13" fill="#ddd3da" stroke="#ddd3da" stroke-width="0.4" opacity="0.62">Miami</text>
<text x="423" y="840" font-size="13" fill="#ddd3da" stroke="#ddd3da" stroke-width="0.4" opacity="0.62">Anchorage</text>
<text x="604" y="834" font-size="13" fill="#ddd3da" stroke="#ddd3da" stroke-width="0.4" opacity="0.62">Honolulu</text>
<text x="424" y="226" font-size="20" fill="#fff" stroke="#5e2450" stroke-opacity="0.32" stroke-width="2.6" stroke-linejoin="round" paint-order="stroke">Wash.</text>
<text x="398" y="324" font-size="20" fill="#fff" stroke="#5e2450" stroke-opacity="0.32" stroke-width="2.6" stroke-linejoin="round" paint-order="stroke">Ore.</text>
<text x="510" y="353" font-size="20" fill="#fff" stroke="#5e2450" stroke-opacity="0.32" stroke-width="2.6" stroke-linejoin="round" paint-order="stroke">Idaho</text>
<text x="633" y="279" font-size="20" fill="#fff" stroke="#5e2450" stroke-opacity="0.32" stroke-width="2.6" stroke-linejoin="round" paint-order="stroke">Mont.</text>
<text x="809" y="280" font-size="20" fill="#fff" stroke="#5e2450" stroke-opacity="0.32" stroke-width="2.6" stroke-linejoin="round" paint-order="stroke">N.D.</text>
<text x="923" y="311" font-size="20" fill="#fff" stroke="#5e2450" stroke-opacity="0.32" stroke-width="2.6" stroke-linejoin="round" paint-order="stroke">Minn.</text>
<text x="1018" y="359" font-size="20" fill="#fff" stroke="#5e2450" stroke-opacity="0.32" stroke-width="2.6" stroke-linejoin="round" paint-order="stroke">Wis.</text>
<text x="1124" y="394" font-size="20" fill="#fff" stroke="#5e2450" stroke-opacity="0.32" stroke-width="2.6" stroke-linejoin="round" paint-order="stroke">Mich.</text>
<text x="808" y="366" font-size="20" fill="#fff" stroke="#5e2450" stroke-opacity="0.32" stroke-width="2.6" stroke-linejoin="round" paint-order="stroke">S.D.</text>
<text x="657" y="398" font-size="20" fill="#fff" stroke="#5e2450" stroke-opacity="0.32" stroke-width="2.6" stroke-linejoin="round" paint-order="stroke">Wyo.</text>
<text x="815" y="454" font-size="20" fill="#fff" stroke="#5e2450" stroke-opacity="0.32" stroke-width="2.6" stroke-linejoin="round" paint-order="stroke">Neb.</text>
<text x="950" y="440" font-size="20" fill="#fff" stroke="#5e2450" stroke-opacity="0.32" stroke-width="2.6" stroke-linejoin="round" paint-order="stroke">Iowa</text>
<text x="1044" y="487" font-size="20" fill="#fff" stroke="#5e2450" stroke-opacity="0.32" stroke-width="2.6" stroke-linejoin="round" paint-order="stroke">Ill.</text>
<text x="1108" y="491" font-size="20" fill="#fff" stroke="#5e2450" stroke-opacity="0.32" stroke-width="2.6" stroke-linejoin="round" paint-order="stroke">Ind.</text>
<text x="450" y="466" font-size="20" fill="#fff" stroke="#5e2450" stroke-opacity="0.32" stroke-width="2.6" stroke-linejoin="round" paint-order="stroke">Nev.</text>
<text x="549" y="495" font-size="20" fill="#fff" stroke="#5e2450" stroke-opacity="0.32" stroke-width="2.6" stroke-linejoin="round" paint-order="stroke">Utah</text>
<text x="687" y="517" font-size="20" fill="#fff" stroke="#5e2450" stroke-opacity="0.32" stroke-width="2.6" stroke-linejoin="round" paint-order="stroke">Colo.</text>
<text x="844" y="542" font-size="20" fill="#fff" stroke="#5e2450" stroke-opacity="0.32" stroke-width="2.6" stroke-linejoin="round" paint-order="stroke">Kan.</text>
<text x="969" y="545" font-size="20" fill="#fff" stroke="#5e2450" stroke-opacity="0.32" stroke-width="2.6" stroke-linejoin="round" paint-order="stroke">Mo.</text>
<text x="1144" y="552" font-size="20" fill="#fff" stroke="#5e2450" stroke-opacity="0.32" stroke-width="2.6" stroke-linejoin="round" paint-order="stroke">Ky.</text>
<text x="366" y="532" font-size="20" fill="#fff" stroke="#5e2450" stroke-opacity="0.32" stroke-width="2.6" stroke-linejoin="round" paint-order="stroke">Calif.</text>
<text x="532" y="635" font-size="20" fill="#fff" stroke="#5e2450" stroke-opacity="0.32" stroke-width="2.6" stroke-linejoin="round" paint-order="stroke">Ariz.</text>
<text x="660" y="645" font-size="20" fill="#fff" stroke="#5e2450" stroke-opacity="0.32" stroke-width="2.6" stroke-linejoin="round" paint-order="stroke">N.M.</text>
<text x="862" y="630" font-size="20" fill="#fff" stroke="#5e2450" stroke-opacity="0.32" stroke-width="2.6" stroke-linejoin="round" paint-order="stroke">Okla.</text>
<text x="975" y="650" font-size="20" fill="#fff" stroke="#5e2450" stroke-opacity="0.32" stroke-width="2.6" stroke-linejoin="round" paint-order="stroke">Ark.</text>
<text x="1119" y="609" font-size="20" fill="#fff" stroke="#5e2450" stroke-opacity="0.32" stroke-width="2.6" stroke-linejoin="round" paint-order="stroke">Tenn.</text>
<text x="831" y="755" font-size="20" fill="#fff" stroke="#5e2450" stroke-opacity="0.32" stroke-width="2.6" stroke-linejoin="round" paint-order="stroke">Texas</text>
<text x="976" y="736" font-size="20" fill="#fff" stroke="#5e2450" stroke-opacity="0.32" stroke-width="2.6" stroke-linejoin="round" paint-order="stroke">La.</text>
<text x="1048" y="701" font-size="20" fill="#fff" stroke="#5e2450" stroke-opacity="0.32" stroke-width="2.6" stroke-linejoin="round" paint-order="stroke">Miss.</text>
<text x="1116" y="699" font-size="20" fill="#fff" stroke="#5e2450" stroke-opacity="0.32" stroke-width="2.6" stroke-linejoin="round" paint-order="stroke">Ala.</text>
<text x="1202" y="700" font-size="20" fill="#fff" stroke="#5e2450" stroke-opacity="0.32" stroke-width="2.6" stroke-linejoin="round" paint-order="stroke">Ga.</text>
<text x="1260" y="809" font-size="20" fill="#fff" stroke="#5e2450" stroke-opacity="0.32" stroke-width="2.6" stroke-linejoin="round" paint-order="stroke">Fla.</text>
<text x="1255" y="650" font-size="20" fill="#fff" stroke="#5e2450" stroke-opacity="0.32" stroke-width="2.6" stroke-linejoin="round" paint-order="stroke">S.C.</text>
<text x="1302" y="594" font-size="20" fill="#fff" stroke="#5e2450" stroke-opacity="0.32" stroke-width="2.6" stroke-linejoin="round" paint-order="stroke">N.C.</text>
<text x="1290" y="525" font-size="20" fill="#fff" stroke="#5e2450" stroke-opacity="0.32" stroke-width="2.6" stroke-linejoin="round" paint-order="stroke">Va.</text>
<text x="1233" y="509" font-size="20" fill="#fff" stroke="#5e2450" stroke-opacity="0.32" stroke-width="2.6" stroke-linejoin="round" paint-order="stroke">W.Va.</text>
<text x="1310" y="476" font-size="20" fill="#fff" stroke="#5e2450" stroke-opacity="0.32" stroke-width="2.6" stroke-linejoin="round" paint-order="stroke">Md.</text>
<text x="1285" y="436" font-size="20" fill="#fff" stroke="#5e2450" stroke-opacity="0.32" stroke-width="2.6" stroke-linejoin="round" paint-order="stroke">Pa.</text>
<text x="1351" y="424" font-size="20" fill="#fff" stroke="#5e2450" stroke-opacity="0.32" stroke-width="2.6" stroke-linejoin="round" paint-order="stroke">N.J.</text>
<text x="1332" y="352" font-size="20" fill="#fff" stroke="#5e2450" stroke-opacity="0.32" stroke-width="2.6" stroke-linejoin="round" paint-order="stroke">N.Y.</text>
<text x="1398" y="367" font-size="20" fill="#fff" stroke="#5e2450" stroke-opacity="0.32" stroke-width="2.6" stroke-linejoin="round" paint-order="stroke">Mass.</text>
<text x="1427" y="262" font-size="20" fill="#fff" stroke="#5e2450" stroke-opacity="0.32" stroke-width="2.6" stroke-linejoin="round" paint-order="stroke">Maine</text>
<text x="412" y="795" font-size="20" fill="#fff" stroke="#5e2450" stroke-opacity="0.32" stroke-width="2.6" stroke-linejoin="round" paint-order="stroke">Alaska</text>
<text x="668" y="884" font-size="19.5" fill="#fff" stroke="#bdbdbd" stroke-width="2.4" stroke-linejoin="round" paint-order="stroke">Hawaii</text>
</g>
<g transform="translate(1620,880)" fill="#b3b3b3"><path d="M25.19 20.83Q24.44 17.59 25.19 14.35Q25.93 11.11 29.17 8.80Q32.41 6.48 37.50 5.83Q42.59 5.19 48.15 6.76Q53.70 8.33 57.41 9.54Q61.11 10.74 64.35 10.00Q67.59 9.26 68.52 7.41Q69.44 5.56 66.67 3.89Q63.89 2.22 66.67 1.85Q69.44 1.48 72.22 3.98Q75.00 6.48 75.46 9.72Q75.93 12.96 74.07 16.20Q72.22 19.44 68.52 20.83Q64.81 22.22 60.19 22.04Q55.56 21.85 50.93 20.65Q46.30 19.44 41.67 18.52Q37.04 17.59 34.26 18.06Q31.48 18.52 30.09 20.37Q28.70 22.22 29.17 24.07Q29.63 25.93 27.78 25.00Q25.93 24.07 25.19 20.83Z"/><path d="M45.37 20.37Q45.37 20.00 40.28 22.04Q35.19 24.07 31.48 27.78Q27.78 31.48 25.46 37.04Q23.15 42.59 23.43 48.15Q23.70 53.70 26.67 58.80Q29.63 63.89 34.72 67.13Q39.81 70.37 45.83 70.83Q51.85 71.30 57.41 69.44Q62.96 67.59 67.59 63.43Q72.22 59.26 74.26 54.17Q76.30 49.07 75.65 48.80Q75.00 48.52 72.69 52.04Q70.37 55.56 66.67 58.80Q62.96 62.04 58.33 63.43Q53.70 64.81 49.07 63.43Q44.44 62.04 41.20 58.33Q37.96 54.63 36.11 49.54Q34.26 44.44 34.54 38.89Q34.81 33.33 36.85 29.17Q38.89 25.00 42.13 22.87Q45.37 20.74 45.37 20.37Z"/><path d="M42.96 27.78L53.70 23.70L53.70 49.63L42.96 54.81Z"/><path d="M64.07 23.70L64.81 23.70L64.81 55.56L64.07 55.56Z"/><path d="M64.44 31.48L70.93 37.96L64.44 44.44L57.96 37.96Z"/></g>
</svg>
<div id="ttl">RISK LEVELS</div>
<div class="lg" style="top:507px;background:#a6c96f"></div><div class="lt" style="top:500px">LOW</div>
<div class="lg" style="top:561px;background:#f7d23e"></div><div class="lt" style="top:554px">MEDIUM</div>
<div class="lg" style="top:615px;background:#f0862e"></div><div class="lt" style="top:608px">HIGH</div>
<div class="lg" style="top:669px;background:#d5432b"></div><div class="lt" style="top:662px">VERY HIGH</div>
<div class="lg" style="top:723px;background:#87216b"></div><div class="lt" style="top:716px">EXTREMELY<br>HIGH</div>
</body></html>
